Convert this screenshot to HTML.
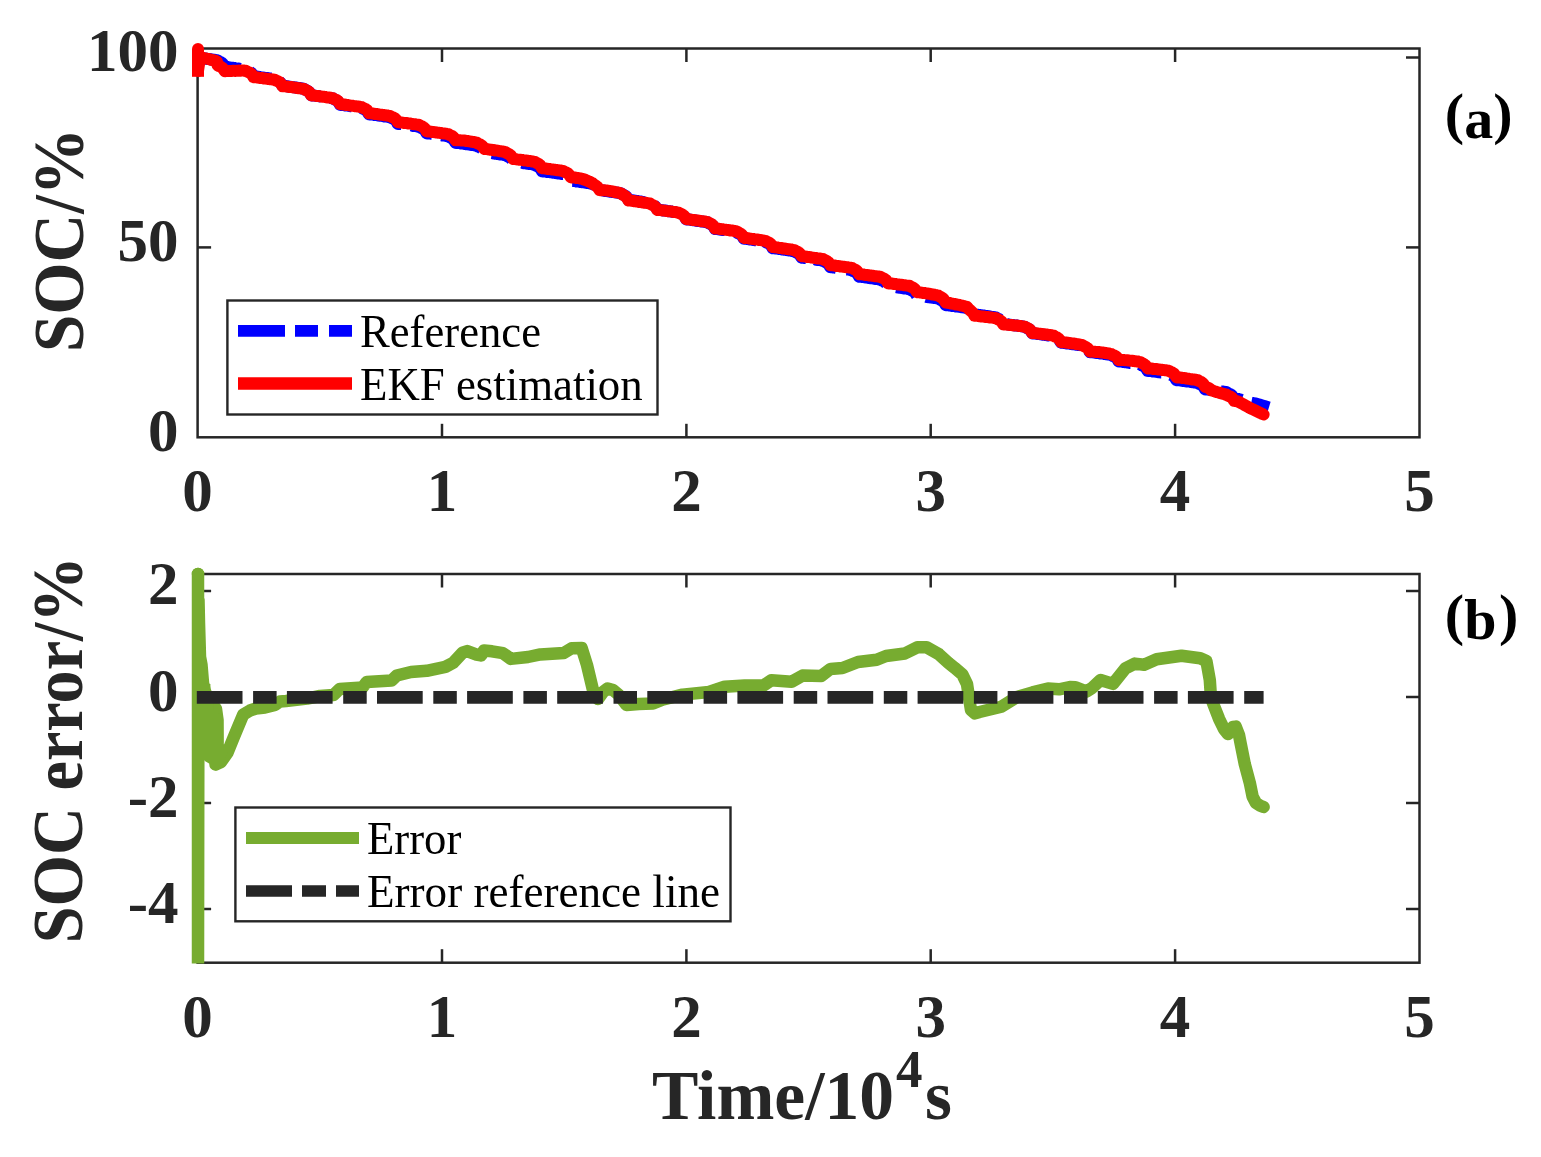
<!DOCTYPE html>
<html><head><meta charset="utf-8"><title>SOC estimation</title>
<style>html,body{margin:0;padding:0;background:#fff;}svg{display:block;}</style></head>
<body><svg width="1541" height="1157" viewBox="0 0 1541 1157">
<rect width="1541" height="1157" fill="#fff"/>
<rect x="197.6" y="48.5" width="1221.9" height="388.8" fill="none" stroke="#262626" stroke-width="2.5"/>
<line x1="442.0" y1="437.3" x2="442.0" y2="423.8" stroke="#262626" stroke-width="2.5"/>
<line x1="442.0" y1="48.5" x2="442.0" y2="62.0" stroke="#262626" stroke-width="2.5"/>
<line x1="686.4" y1="437.3" x2="686.4" y2="423.8" stroke="#262626" stroke-width="2.5"/>
<line x1="686.4" y1="48.5" x2="686.4" y2="62.0" stroke="#262626" stroke-width="2.5"/>
<line x1="930.7" y1="437.3" x2="930.7" y2="423.8" stroke="#262626" stroke-width="2.5"/>
<line x1="930.7" y1="48.5" x2="930.7" y2="62.0" stroke="#262626" stroke-width="2.5"/>
<line x1="1175.1" y1="437.3" x2="1175.1" y2="423.8" stroke="#262626" stroke-width="2.5"/>
<line x1="1175.1" y1="48.5" x2="1175.1" y2="62.0" stroke="#262626" stroke-width="2.5"/>
<line x1="197.6" y1="57.5" x2="211.1" y2="57.5" stroke="#262626" stroke-width="2.5"/>
<line x1="1419.5" y1="57.5" x2="1406.0" y2="57.5" stroke="#262626" stroke-width="2.5"/>
<line x1="197.6" y1="247.4" x2="211.1" y2="247.4" stroke="#262626" stroke-width="2.5"/>
<line x1="1419.5" y1="247.4" x2="1406.0" y2="247.4" stroke="#262626" stroke-width="2.5"/>
<rect x="197.6" y="574.0" width="1221.9" height="388.7" fill="none" stroke="#262626" stroke-width="2.5"/>
<line x1="442.0" y1="962.7" x2="442.0" y2="949.2" stroke="#262626" stroke-width="2.5"/>
<line x1="442.0" y1="574.0" x2="442.0" y2="587.5" stroke="#262626" stroke-width="2.5"/>
<line x1="686.4" y1="962.7" x2="686.4" y2="949.2" stroke="#262626" stroke-width="2.5"/>
<line x1="686.4" y1="574.0" x2="686.4" y2="587.5" stroke="#262626" stroke-width="2.5"/>
<line x1="930.7" y1="962.7" x2="930.7" y2="949.2" stroke="#262626" stroke-width="2.5"/>
<line x1="930.7" y1="574.0" x2="930.7" y2="587.5" stroke="#262626" stroke-width="2.5"/>
<line x1="1175.1" y1="962.7" x2="1175.1" y2="949.2" stroke="#262626" stroke-width="2.5"/>
<line x1="1175.1" y1="574.0" x2="1175.1" y2="587.5" stroke="#262626" stroke-width="2.5"/>
<line x1="197.6" y1="591.0" x2="211.1" y2="591.0" stroke="#262626" stroke-width="2.5"/>
<line x1="1419.5" y1="591.0" x2="1406.0" y2="591.0" stroke="#262626" stroke-width="2.5"/>
<line x1="197.6" y1="697.0" x2="211.1" y2="697.0" stroke="#262626" stroke-width="2.5"/>
<line x1="1419.5" y1="697.0" x2="1406.0" y2="697.0" stroke="#262626" stroke-width="2.5"/>
<line x1="197.6" y1="803.0" x2="211.1" y2="803.0" stroke="#262626" stroke-width="2.5"/>
<line x1="1419.5" y1="803.0" x2="1406.0" y2="803.0" stroke="#262626" stroke-width="2.5"/>
<line x1="197.6" y1="909.0" x2="211.1" y2="909.0" stroke="#262626" stroke-width="2.5"/>
<line x1="1419.5" y1="909.0" x2="1406.0" y2="909.0" stroke="#262626" stroke-width="2.5"/>
<polyline points="197.6,57.5 200.0,57.7 200.5,57.7 201.0,57.9 201.5,58.1 202.0,58.2 202.5,58.2 203.0,58.2 203.5,58.2 204.0,58.3 204.5,58.4 205.0,58.4 205.5,58.5 206.0,58.7 206.5,58.8 207.0,58.9 207.5,58.9 208.0,58.9 208.5,58.9 209.0,59.0 209.5,59.1 210.0,59.1 210.5,59.2 211.0,59.4 211.5,59.5 212.0,59.5 212.5,59.6 213.0,59.6 213.5,59.7 214.0,59.8 214.5,59.8 215.0,59.8 215.5,60.0 216.0,60.2 216.5,60.2 217.0,60.2 217.5,60.3 218.0,60.7 218.5,61.1 219.0,61.4 219.5,61.6 220.0,61.8 220.5,62.0 221.0,62.3 221.5,62.7 222.0,63.0 222.5,63.4 223.0,64.0 223.5,64.7 224.0,65.4 224.5,66.5 225.0,67.0 225.5,67.0 226.0,67.0 226.5,67.0 227.0,67.0 227.5,67.0 228.0,67.1 228.5,67.2 229.0,67.2 229.5,67.2 230.0,67.4 230.5,67.6 231.0,67.7 231.5,67.7 232.0,67.7 232.5,67.7 233.0,67.8 233.5,67.9 234.0,67.9 234.5,68.0 235.0,68.2 235.5,68.3 236.0,68.3 236.5,68.4 237.0,68.4 237.5,68.4 238.0,68.6 238.5,68.6 239.0,68.6 239.5,68.8 240.0,68.9 240.5,69.0 241.0,69.0 241.5,69.1 242.0,69.1 242.5,69.2 243.0,69.3 243.5,69.3 244.0,69.3 244.5,69.6 245.0,69.7 245.5,69.7 246.0,69.7 246.5,70.0 247.0,70.3 247.5,70.7 248.0,70.9 248.5,71.1 249.0,71.4 249.5,71.6 250.0,71.9 250.5,72.3 251.0,72.6 251.5,73.1 252.0,73.7 252.5,74.4 253.0,75.2 253.5,76.3 254.0,76.5 254.5,76.5 255.0,76.5 255.5,76.5 256.0,76.5 256.5,76.5 257.0,76.6 257.5,76.7 258.0,76.7 258.5,76.8 259.0,77.0 259.5,77.1 260.0,77.1 260.5,77.2 261.0,77.2 261.5,77.2 262.0,77.4 262.5,77.4 263.0,77.4 263.5,77.6 264.0,77.7 264.5,77.8 265.0,77.8 265.5,77.9 266.0,77.9 266.5,78.0 267.0,78.1 267.5,78.1 268.0,78.1 268.5,78.3 269.0,78.5 269.5,78.5 270.0,78.5 270.5,78.5 271.0,78.6 271.5,78.7 272.0,78.7 272.5,78.8 273.0,78.9 273.5,79.1 274.0,79.2 274.5,79.2 275.0,79.2 275.5,79.6 276.0,79.9 276.5,80.3 277.0,80.5 277.5,80.7 278.0,80.9 278.5,81.1 279.0,81.5 279.5,81.9 280.0,82.2 280.5,82.7 281.0,83.4 281.5,84.1 282.0,85.1 282.5,85.9 283.0,85.9 283.5,85.9 284.0,85.9 284.5,86.0 285.0,86.0 285.5,86.0 286.0,86.1 286.5,86.2 287.0,86.2 287.5,86.3 288.0,86.5 288.5,86.6 289.0,86.6 289.5,86.7 290.0,86.7 290.5,86.8 291.0,86.9 291.5,86.9 292.0,86.9 292.5,87.1 293.0,87.3 293.5,87.3 294.0,87.3 294.5,87.3 295.0,87.4 295.5,87.5 296.0,87.5 296.5,87.6 297.0,87.7 297.5,87.9 298.0,88.0 298.5,88.0 299.0,88.0 299.5,88.0 300.0,88.1 300.5,88.2 301.0,88.2 301.5,88.3 302.0,88.5 302.5,88.6 303.0,88.7 303.5,88.7 304.0,88.8 304.5,89.2 305.0,89.5 305.5,89.9 306.0,90.0 306.5,90.2 307.0,90.5 307.5,90.7 308.0,91.1 308.5,91.5 309.0,91.8 309.5,92.4 310.0,93.2 310.5,93.9 311.0,94.9 311.5,95.4 312.0,95.4 312.5,95.4 313.0,95.4 313.5,95.5 314.0,95.5 314.5,95.5 315.0,95.7 315.5,95.7 316.0,95.7 316.5,95.9 317.0,96.0 317.5,96.1 318.0,96.1 318.5,96.2 319.0,96.2 319.5,96.3 320.0,96.4 320.5,96.4 321.0,96.4 321.5,96.7 322.0,96.8 322.5,96.8 323.0,96.8 323.5,96.8 324.0,96.9 324.5,97.0 325.0,97.0 325.5,97.1 326.0,97.2 326.5,97.4 327.0,97.5 327.5,97.5 328.0,97.5 328.5,97.5 329.0,97.6 329.5,97.7 330.0,97.7 330.5,97.8 331.0,98.0 331.5,98.1 332.0,98.2 332.5,98.2 333.0,98.4 333.5,98.8 334.0,99.1 334.5,99.4 335.0,99.6 335.5,99.8 336.0,100.0 336.5,100.4 337.0,100.7 337.5,101.1 338.0,101.5 338.5,102.2 339.0,102.9 339.5,103.7 340.0,104.7 340.5,104.9 341.0,104.9 341.5,104.9 342.0,104.9 342.5,105.0 343.0,105.0 343.5,105.1 344.0,105.2 344.5,105.2 345.0,105.2 345.5,105.5 346.0,105.6 346.5,105.6 347.0,105.6 347.5,105.6 348.0,105.7 348.5,105.8 349.0,105.9 349.5,105.9 350.0,106.0 350.5,106.2 351.0,106.3 351.5,106.3 352.0,106.3 352.5,106.3 353.0,106.4 353.5,106.5 354.0,106.5 354.5,106.6 355.0,106.8 355.5,106.9 356.0,107.0 356.5,107.0 357.0,107.0 357.5,107.0 358.0,107.2 358.5,107.2 359.0,107.2 359.5,107.4 360.0,107.6 360.5,107.7 361.0,107.7 361.5,107.7 362.0,108.0 362.5,108.4 363.0,108.8 363.5,109.0 364.0,109.2 364.5,109.4 365.0,109.6 365.5,110.0 366.0,110.3 366.5,110.7 367.0,111.2 367.5,111.9 368.0,112.6 368.5,113.5 369.0,114.3 369.5,114.4 370.0,114.4 370.5,114.4 371.0,114.4 371.5,114.5 372.0,114.5 372.5,114.6 373.0,114.7 373.5,114.7 374.0,114.8 374.5,115.0 375.0,115.1 375.5,115.1 376.0,115.1 376.5,115.1 377.0,115.2 377.5,115.3 378.0,115.4 378.5,115.4 379.0,115.6 379.5,115.7 380.0,115.8 380.5,115.8 381.0,115.8 381.5,115.8 382.0,116.0 382.5,116.0 383.0,116.0 383.5,116.1 384.0,116.4 384.5,116.5 385.0,116.5 385.5,116.5 386.0,116.5 386.5,116.6 387.0,116.7 387.5,116.7 388.0,116.7 388.5,116.9 389.0,117.1 389.5,117.1 390.0,117.2 390.5,117.3 391.0,117.7 391.5,118.0 392.0,118.3 392.5,118.5 393.0,118.7 393.5,118.9 394.0,119.2 394.5,119.6 395.0,119.9 395.5,120.3 396.0,120.9 396.5,121.6 397.0,122.3 397.5,123.4 398.0,123.9 398.5,123.9 399.0,123.9 399.5,123.9 400.0,123.9 400.5,124.0 401.0,124.0 401.5,124.1 402.0,124.2 402.5,124.2 403.0,124.4 403.5,124.5 404.0,124.6 404.5,124.6 405.0,124.6 405.5,124.6 406.0,124.8 406.5,124.8 407.0,124.8 407.5,124.9 408.0,125.1 408.5,125.3 409.0,125.3 409.5,125.3 410.0,125.3 410.5,125.4 411.0,125.5 411.5,125.5 412.0,125.5 412.5,125.7 413.0,125.9 413.5,126.0 414.0,126.0 414.5,126.0 415.0,126.0 415.5,126.1 416.0,126.2 416.5,126.2 417.0,126.3 417.5,126.5 418.0,126.6 418.5,126.6 419.0,126.6 419.5,126.9 420.0,127.3 420.5,127.6 421.0,127.9 421.5,128.1 422.0,128.3 422.5,128.5 423.0,128.8 423.5,129.2 424.0,129.5 424.5,130.0 425.0,130.6 425.5,131.3 426.0,132.1 426.5,133.2 427.0,133.4 427.5,133.4 428.0,133.4 428.5,133.4 429.0,133.4 429.5,133.5 430.0,133.6 430.5,133.7 431.0,133.7 431.5,133.7 432.0,133.9 432.5,134.1 433.0,134.1 433.5,134.1 434.0,134.1 434.5,134.2 435.0,134.3 435.5,134.3 436.0,134.3 436.5,134.5 437.0,134.7 437.5,134.8 438.0,134.8 438.5,134.8 439.0,134.8 439.5,134.9 440.0,135.0 440.5,135.0 441.0,135.1 441.5,135.3 442.0,135.4 442.5,135.5 443.0,135.5 443.5,135.5 444.0,135.5 444.5,135.7 445.0,135.7 445.5,135.7 446.0,135.8 446.5,136.0 447.0,136.1 447.5,136.1 448.0,136.2 448.5,136.5 449.0,136.9 449.5,137.2 450.0,137.4 450.5,137.6 451.0,137.9 451.5,138.1 452.0,138.4 452.5,138.8 453.0,139.2 453.5,139.7 454.0,140.4 454.5,141.1 455.0,142.0 455.5,142.8 456.0,142.9 456.5,142.9 457.0,142.9 457.5,142.9 458.0,142.9 458.5,143.0 459.0,143.1 459.5,143.1 460.0,143.2 460.5,143.3 461.0,143.5 461.5,143.6 462.0,143.6 462.5,143.6 463.0,143.6 463.5,143.7 464.0,143.8 464.5,143.8 465.0,143.9 465.5,144.1 466.0,144.2 466.5,144.3 467.0,144.3 467.5,144.3 468.0,144.3 468.5,144.4 469.0,144.5 469.5,144.5 470.0,144.6 470.5,144.8 471.0,144.9 471.5,144.9 472.0,145.0 472.5,145.0 473.0,145.1 473.5,145.2 474.0,145.2 474.5,145.2 475.0,145.4 475.5,145.6 476.0,145.6 476.5,145.6 477.0,145.7 477.5,146.1 478.0,146.5 478.5,146.8 479.0,147.0 479.5,147.2 480.0,147.4 480.5,147.7 481.0,148.1 481.5,148.4 482.0,148.8 482.5,149.4 483.0,150.1 483.5,150.8 484.0,151.8 484.5,152.4 485.0,152.4 485.5,152.4 486.0,152.4 486.5,152.4 487.0,152.4 487.5,152.5 488.0,152.6 488.5,152.6 489.0,152.7 489.5,152.8 490.0,153.0 490.5,153.1 491.0,153.1 491.5,153.1 492.0,153.1 492.5,153.2 493.0,153.3 493.5,153.3 494.0,153.4 494.5,153.6 495.0,153.7 495.5,153.8 496.0,153.8 496.5,153.8 497.0,153.9 497.5,154.0 498.0,154.0 498.5,154.0 499.0,154.2 499.5,154.4 500.0,154.4 500.5,154.4 501.0,154.5 501.5,154.5 502.0,154.6 502.5,154.7 503.0,154.7 503.5,154.8 504.0,155.0 504.5,155.1 505.0,155.1 505.5,155.1 506.0,155.4 506.5,155.7 507.0,156.1 507.5,156.3 508.0,156.6 508.5,156.8 509.0,157.0 509.5,157.3 510.0,157.7 510.5,158.0 511.0,158.5 511.5,159.1 512.0,159.8 512.5,160.6 513.0,161.7 513.5,161.9 514.0,161.9 514.5,161.9 515.0,161.9 515.5,161.9 516.0,161.9 516.5,162.0 517.0,162.1 517.5,162.1 518.0,162.2 518.5,162.4 519.0,162.5 519.5,162.6 520.0,162.6 520.5,162.6 521.0,162.6 521.5,162.8 522.0,162.8 522.5,162.8 523.0,163.0 523.5,163.2 524.0,163.3 524.5,163.3 525.0,163.3 525.5,163.3 526.0,163.4 526.5,163.5 527.0,163.5 527.5,163.5 528.0,163.8 528.5,163.9 529.0,163.9 529.5,164.0 530.0,164.0 530.5,164.0 531.0,164.1 531.5,164.2 532.0,164.2 532.5,164.3 533.0,164.5 533.5,164.6 534.0,164.6 534.5,164.6 535.0,165.0 535.5,165.3 536.0,165.7 536.5,165.9 537.0,166.1 537.5,166.3 538.0,166.5 538.5,166.9 539.0,167.3 539.5,167.6 540.0,168.1 540.5,168.8 541.0,169.5 541.5,170.4 542.0,171.3 542.5,171.4 543.0,171.4 543.5,171.4 544.0,171.4 544.5,171.4 545.0,171.4 545.5,171.6 546.0,171.6 546.5,171.6 547.0,171.7 547.5,172.0 548.0,172.1 548.5,172.1 549.0,172.1 549.5,172.1 550.0,172.2 550.5,172.3 551.0,172.3 551.5,172.3 552.0,172.5 552.5,172.7 553.0,172.7 553.5,172.8 554.0,172.8 554.5,172.8 555.0,172.9 555.5,173.0 556.0,173.0 556.5,173.1 557.0,173.3 557.5,173.4 558.0,173.4 558.5,173.5 559.0,173.5 559.5,173.5 560.0,173.7 560.5,173.7 561.0,173.7 561.5,173.9 562.0,174.0 562.5,174.1 563.0,174.1 563.5,174.2 564.0,174.6 564.5,175.0 565.0,175.3 565.5,175.5 566.0,175.7 566.5,175.9 567.0,176.1 567.5,176.5 568.0,176.9 568.5,177.3 569.0,177.8 569.5,178.6 570.0,179.3 570.5,180.3 571.0,180.9 571.5,180.9 572.0,180.9 572.5,180.9 573.0,180.9 573.5,180.9 574.0,181.0 574.5,181.1 575.0,181.1 575.5,181.1 576.0,181.3 576.5,181.5 577.0,181.6 577.5,181.6 578.0,181.6 578.5,181.6 579.0,181.7 579.5,181.8 580.0,181.8 580.5,181.9 581.0,182.1 581.5,182.2 582.0,182.2 582.5,182.3 583.0,182.3 583.5,182.3 584.0,182.5 584.5,182.5 585.0,182.5 585.5,182.7 586.0,182.8 586.5,182.9 587.0,182.9 587.5,183.0 588.0,183.0 588.5,183.1 589.0,183.2 589.5,183.2 590.0,183.2 590.5,183.5 591.0,183.6 591.5,183.6 592.0,183.6 592.5,183.8 593.0,184.2 593.5,184.6 594.0,184.8 594.5,185.0 595.0,185.2 595.5,185.5 596.0,185.8 596.5,186.1 597.0,186.5 597.5,186.9 598.0,187.6 598.5,188.3 599.0,189.1 599.5,190.1 600.0,190.4 600.5,190.4 601.0,190.4 601.5,190.4 602.0,190.4 602.5,190.4 603.0,190.5 603.5,190.6 604.0,190.6 604.5,190.7 605.0,190.9 605.5,191.1 606.0,191.1 606.5,191.1 607.0,191.1 607.5,191.2 608.0,191.3 608.5,191.4 609.0,191.4 609.5,191.5 610.0,191.7 610.5,191.8 611.0,191.8 611.5,191.9 612.0,191.9 612.5,192.0 613.0,192.1 613.5,192.1 614.0,192.1 614.5,192.3 615.0,192.5 615.5,192.5 616.0,192.5 616.5,192.6 617.0,192.6 617.5,192.7 618.0,192.8 618.5,192.8 619.0,192.9 619.5,193.1 620.0,193.2 620.5,193.2 621.0,193.3 621.5,193.6 622.0,194.0 622.5,194.3 623.0,194.5 623.5,194.8 624.0,195.0 624.5,195.2 625.0,195.6 625.5,195.9 626.0,196.3 626.5,196.8 627.0,197.5 627.5,198.2 628.0,199.1 628.5,200.0 629.0,200.1 629.5,200.1 630.0,200.1 630.5,200.1 631.0,200.1 631.5,200.1 632.0,200.3 632.5,200.3 633.0,200.3 633.5,200.4 634.0,200.7 634.5,200.8 635.0,200.8 635.5,200.8 636.0,200.8 636.5,200.9 637.0,201.0 637.5,201.0 638.0,201.1 638.5,201.3 639.0,201.4 639.5,201.5 640.0,201.5 640.5,201.5 641.0,201.6 641.5,201.7 642.0,201.8 642.5,201.8 643.0,201.9 643.5,202.1 644.0,202.2 644.5,202.2 645.0,202.2 645.5,202.3 646.0,202.3 646.5,202.5 647.0,202.5 647.5,202.5 648.0,202.7 648.5,202.8 649.0,202.9 649.5,202.9 650.0,203.0 650.5,203.4 651.0,203.8 651.5,204.1 652.0,204.3 652.5,204.5 653.0,204.7 653.5,205.0 654.0,205.4 654.5,205.7 655.0,206.1 655.5,206.7 656.0,207.4 656.5,208.1 657.0,209.1 657.5,209.7 658.0,209.7 658.5,209.7 659.0,209.8 659.5,209.8 660.0,209.8 660.5,209.9 661.0,210.0 661.5,210.0 662.0,210.0 662.5,210.2 663.0,210.4 663.5,210.5 664.0,210.5 664.5,210.5 665.0,210.5 665.5,210.6 666.0,210.7 666.5,210.7 667.0,210.8 667.5,211.0 668.0,211.2 668.5,211.2 669.0,211.2 669.5,211.2 670.0,211.3 670.5,211.4 671.0,211.4 671.5,211.5 672.0,211.6 672.5,211.8 673.0,211.9 673.5,211.9 674.0,211.9 674.5,211.9 675.0,212.1 675.5,212.2 676.0,212.2 676.5,212.2 677.0,212.4 677.5,212.6 678.0,212.6 678.5,212.6 679.0,212.8 679.5,213.2 680.0,213.6 680.5,213.8 681.0,214.1 681.5,214.3 682.0,214.5 682.5,214.8 683.0,215.2 683.5,215.5 684.0,216.0 684.5,216.6 685.0,217.3 685.5,218.1 686.0,219.1 686.5,219.4 687.0,219.4 687.5,219.4 688.0,219.4 688.5,219.5 689.0,219.5 689.5,219.6 690.0,219.7 690.5,219.7 691.0,219.8 691.5,220.0 692.0,220.1 692.5,220.2 693.0,220.2 693.5,220.2 694.0,220.2 694.5,220.4 695.0,220.4 695.5,220.4 696.0,220.6 696.5,220.8 697.0,220.9 697.5,220.9 698.0,220.9 698.5,220.9 699.0,221.0 699.5,221.1 700.0,221.1 700.5,221.2 701.0,221.4 701.5,221.5 702.0,221.6 702.5,221.6 703.0,221.6 703.5,221.7 704.0,221.8 704.5,221.8 705.0,221.9 705.5,222.0 706.0,222.2 706.5,222.3 707.0,222.3 707.5,222.3 708.0,222.7 708.5,223.0 709.0,223.4 709.5,223.6 710.0,223.8 710.5,224.0 711.0,224.2 711.5,224.6 712.0,225.0 712.5,225.3 713.0,225.8 713.5,226.5 714.0,227.2 714.5,228.1 715.0,229.0 715.5,229.1 716.0,229.1 716.5,229.1 717.0,229.1 717.5,229.2 718.0,229.2 718.5,229.3 719.0,229.4 719.5,229.4 720.0,229.5 720.5,229.7 721.0,229.8 721.5,229.8 722.0,229.9 722.5,229.9 723.0,230.0 723.5,230.1 724.0,230.1 724.5,230.1 725.0,230.3 725.5,230.5 726.0,230.6 726.5,230.6 727.0,230.6 727.5,230.6 728.0,230.7 728.5,230.8 729.0,230.8 729.5,230.9 730.0,231.1 730.5,231.3 731.0,231.3 731.5,231.3 732.0,231.3 732.5,231.4 733.0,231.5 733.5,231.5 734.0,231.6 734.5,231.7 735.0,231.9 735.5,232.0 736.0,232.0 736.5,232.1 737.0,232.5 737.5,232.8 738.0,233.2 738.5,233.3 739.0,233.6 739.5,233.8 740.0,234.0 740.5,234.4 741.0,234.8 741.5,235.2 742.0,235.7 742.5,236.4 743.0,237.2 743.5,238.2 744.0,238.8 744.5,238.8 745.0,238.8 745.5,238.8 746.0,238.8 746.5,238.9 747.0,238.9 747.5,239.0 748.0,239.1 748.5,239.1 749.0,239.3 749.5,239.4 750.0,239.5 750.5,239.5 751.0,239.6 751.5,239.6 752.0,239.7 752.5,239.8 753.0,239.8 753.5,239.8 754.0,240.1 754.5,240.2 755.0,240.2 755.5,240.2 756.0,240.2 756.5,240.3 757.0,240.4 757.5,240.5 758.0,240.5 758.5,240.6 759.0,240.8 759.5,240.9 760.0,240.9 760.5,240.9 761.0,240.9 761.5,241.0 762.0,241.1 762.5,241.1 763.0,241.2 763.5,241.4 764.0,241.5 764.5,241.6 765.0,241.6 765.5,241.8 766.0,242.2 766.5,242.5 767.0,242.8 767.5,243.0 768.0,243.2 768.5,243.4 769.0,243.7 769.5,244.1 770.0,244.4 770.5,244.9 771.0,245.5 771.5,246.2 772.0,247.0 772.5,248.0 773.0,248.3 773.5,248.3 774.0,248.3 774.5,248.3 775.0,248.4 775.5,248.4 776.0,248.5 776.5,248.6 777.0,248.6 777.5,248.6 778.0,248.8 778.5,249.0 779.0,249.0 779.5,249.0 780.0,249.1 780.5,249.1 781.0,249.2 781.5,249.3 782.0,249.3 782.5,249.4 783.0,249.6 783.5,249.7 784.0,249.7 784.5,249.7 785.0,249.7 785.5,249.8 786.0,249.9 786.5,250.0 787.0,250.0 787.5,250.2 788.0,250.3 788.5,250.4 789.0,250.4 789.5,250.4 790.0,250.4 790.5,250.6 791.0,250.6 791.5,250.6 792.0,250.7 792.5,251.0 793.0,251.1 793.5,251.1 794.0,251.1 794.5,251.4 795.0,251.8 795.5,252.1 796.0,252.3 796.5,252.6 797.0,252.8 797.5,253.0 798.0,253.3 798.5,253.7 799.0,254.1 799.5,254.5 800.0,255.2 800.5,255.9 801.0,256.8 801.5,257.7 802.0,257.8 802.5,257.8 803.0,257.8 803.5,257.8 804.0,257.9 804.5,257.9 805.0,258.0 805.5,258.1 806.0,258.1 806.5,258.2 807.0,258.4 807.5,258.5 808.0,258.5 808.5,258.6 809.0,258.6 809.5,258.6 810.0,258.8 810.5,258.8 811.0,258.8 811.5,259.0 812.0,259.1 812.5,259.2 813.0,259.2 813.5,259.2 814.0,259.2 814.5,259.4 815.0,259.4 815.5,259.4 816.0,259.5 816.5,259.8 817.0,259.9 817.5,259.9 818.0,259.9 818.5,259.9 819.0,260.0 819.5,260.1 820.0,260.1 820.5,260.1 821.0,260.3 821.5,260.5 822.0,260.6 822.5,260.6 823.0,260.6 823.5,261.0 824.0,261.4 824.5,261.7 825.0,261.9 825.5,262.1 826.0,262.3 826.5,262.6 827.0,263.0 827.5,263.3 828.0,263.7 828.5,264.2 829.0,265.0 829.5,265.7 830.0,266.7 830.5,267.3 831.0,267.3 831.5,267.3 832.0,267.3 832.5,267.4 833.0,267.4 833.5,267.4 834.0,267.6 834.5,267.6 835.0,267.6 835.5,267.8 836.0,267.9 836.5,268.0 837.0,268.0 837.5,268.1 838.0,268.1 838.5,268.2 839.0,268.3 839.5,268.3 840.0,268.3 840.5,268.5 841.0,268.7 841.5,268.7 842.0,268.7 842.5,268.7 843.0,268.8 843.5,268.9 844.0,268.9 844.5,268.9 845.0,269.1 845.5,269.3 846.0,269.4 846.5,269.4 847.0,269.4 847.5,269.4 848.0,269.5 848.5,269.6 849.0,269.6 849.5,269.7 850.0,269.9 850.5,270.0 851.0,270.1 851.5,270.1 852.0,270.3 852.5,270.6 853.0,271.0 853.5,271.3 854.0,271.5 854.5,271.7 855.0,271.9 855.5,272.2 856.0,272.6 856.5,272.9 857.0,273.3 857.5,274.0 858.0,274.7 858.5,275.5 859.0,276.5 859.5,276.8 860.0,276.8 860.5,276.8 861.0,276.8 861.5,276.9 862.0,276.9 862.5,277.0 863.0,277.1 863.5,277.1 864.0,277.1 864.5,277.3 865.0,277.5 865.5,277.5 866.0,277.5 866.5,277.5 867.0,277.6 867.5,277.7 868.0,277.8 868.5,277.8 869.0,277.9 869.5,278.1 870.0,278.2 870.5,278.2 871.0,278.2 871.5,278.2 872.0,278.3 872.5,278.4 873.0,278.4 873.5,278.5 874.0,278.7 874.5,278.8 875.0,278.9 875.5,278.9 876.0,278.9 876.5,278.9 877.0,279.1 877.5,279.1 878.0,279.1 878.5,279.2 879.0,279.4 879.5,279.6 880.0,279.6 880.5,279.6 881.0,279.9 881.5,280.3 882.0,280.6 882.5,280.8 883.0,281.0 883.5,281.2 884.0,281.5 884.5,281.8 885.0,282.2 885.5,282.5 886.0,283.0 886.5,283.7 887.0,284.4 887.5,285.3 888.0,286.2 888.5,286.3 889.0,286.3 889.5,286.3 890.0,286.3 890.5,286.4 891.0,286.4 891.5,286.5 892.0,286.6 892.5,286.6 893.0,286.7 893.5,286.9 894.0,287.0 894.5,287.0 895.0,287.0 895.5,287.0 896.0,287.1 896.5,287.2 897.0,287.3 897.5,287.3 898.0,287.5 898.5,287.6 899.0,287.7 899.5,287.7 900.0,287.7 900.5,287.7 901.0,287.9 901.5,287.9 902.0,287.9 902.5,288.0 903.0,288.2 903.5,288.4 904.0,288.4 904.5,288.4 905.0,288.4 905.5,288.5 906.0,288.6 906.5,288.6 907.0,288.6 907.5,288.8 908.0,289.0 908.5,289.1 909.0,289.1 909.5,289.1 910.0,289.5 910.5,289.9 911.0,290.2 911.5,290.4 912.0,290.6 912.5,290.8 913.0,291.1 913.5,291.4 914.0,291.8 914.5,292.2 915.0,292.7 915.5,293.4 916.0,294.1 916.5,295.1 917.0,295.8 917.5,295.8 918.0,295.8 918.5,295.8 919.0,295.8 919.5,295.9 920.0,295.9 920.5,296.0 921.0,296.1 921.5,296.1 922.0,296.2 922.5,296.4 923.0,296.5 923.5,296.5 924.0,296.5 924.5,296.5 925.0,296.7 925.5,296.7 926.0,296.8 926.5,296.8 927.0,297.0 927.5,297.1 928.0,297.2 928.5,297.2 929.0,297.2 929.5,297.3 930.0,297.4 930.5,297.4 931.0,297.4 931.5,297.6 932.0,297.8 932.5,297.8 933.0,297.8 933.5,297.9 934.0,297.9 934.5,298.0 935.0,298.1 935.5,298.1 936.0,298.1 936.5,298.3 937.0,298.5 937.5,298.5 938.0,298.5 938.5,298.7 939.0,299.1 939.5,299.4 940.0,299.7 940.5,299.9 941.0,300.1 941.5,300.3 942.0,300.6 942.5,301.0 943.0,301.3 943.5,301.8 944.0,302.4 944.5,303.1 945.0,303.9 945.5,304.9 946.0,305.2 946.5,305.2 947.0,305.2 947.5,305.2 948.0,305.3 948.5,305.3 949.0,305.4 949.5,305.5 950.0,305.5 950.5,305.5 951.0,305.7 951.5,305.9 952.0,305.9 952.5,305.9 953.0,305.9 953.5,306.0 954.0,306.1 954.5,306.1 955.0,306.2 955.5,306.3 956.0,306.5 956.5,306.6 957.0,306.6 957.5,306.6 958.0,306.6 958.5,306.7 959.0,306.8 959.5,306.8 960.0,306.8 960.5,307.0 961.0,307.2 961.5,307.2 962.0,307.2 962.5,307.3 963.0,307.3 963.5,307.4 964.0,307.5 964.5,307.5 965.0,307.6 965.5,307.8 966.0,307.9 966.5,307.9 967.0,307.9 967.5,308.2 968.0,308.6 968.5,309.0 969.0,309.2 969.5,309.4 970.0,309.6 970.5,309.8 971.0,310.2 971.5,310.5 972.0,310.9 972.5,311.3 973.0,312.0 973.5,312.7 974.0,313.6 974.5,314.5 975.0,314.6 975.5,314.6 976.0,314.6 976.5,314.6 977.0,314.7 977.5,314.7 978.0,314.8 978.5,314.9 979.0,314.9 979.5,315.0 980.0,315.2 980.5,315.3 981.0,315.3 981.5,315.3 982.0,315.3 982.5,315.4 983.0,315.5 983.5,315.5 984.0,315.6 984.5,315.7 985.0,315.9 985.5,316.0 986.0,316.0 986.5,316.0 987.0,316.0 987.5,316.1 988.0,316.2 988.5,316.2 989.0,316.3 989.5,316.5 990.0,316.6 990.5,316.6 991.0,316.7 991.5,316.7 992.0,316.7 992.5,316.9 993.0,316.9 993.5,316.9 994.0,317.1 994.5,317.2 995.0,317.3 995.5,317.3 996.0,317.4 996.5,317.8 997.0,318.1 997.5,318.5 998.0,318.6 998.5,318.8 999.0,319.1 999.5,319.3 1000.0,319.7 1000.5,320.0 1001.0,320.4 1001.5,320.9 1002.0,321.7 1002.5,322.4 1003.0,323.3 1003.5,324.0 1004.0,324.0 1004.5,324.0 1005.0,324.0 1005.5,324.1 1006.0,324.1 1006.5,324.1 1007.0,324.2 1007.5,324.3 1008.0,324.3 1008.5,324.4 1009.0,324.6 1009.5,324.7 1010.0,324.7 1010.5,324.7 1011.0,324.7 1011.5,324.9 1012.0,324.9 1012.5,324.9 1013.0,325.0 1013.5,325.2 1014.0,325.3 1014.5,325.4 1015.0,325.4 1015.5,325.4 1016.0,325.4 1016.5,325.6 1017.0,325.6 1017.5,325.6 1018.0,325.8 1018.5,325.9 1019.0,326.0 1019.5,326.0 1020.0,326.1 1020.5,326.1 1021.0,326.2 1021.5,326.3 1022.0,326.3 1022.5,326.3 1023.0,326.5 1023.5,326.7 1024.0,326.7 1024.5,326.7 1025.0,326.9 1025.5,327.3 1026.0,327.6 1026.5,327.9 1027.0,328.1 1027.5,328.3 1028.0,328.5 1028.5,328.8 1029.0,329.2 1029.5,329.5 1030.0,329.9 1030.5,330.6 1031.0,331.3 1031.5,332.0 1032.0,333.1 1032.5,333.4 1033.0,333.4 1033.5,333.4 1034.0,333.4 1034.5,333.5 1035.0,333.5 1035.5,333.6 1036.0,333.7 1036.5,333.7 1037.0,333.7 1037.5,333.9 1038.0,334.1 1038.5,334.1 1039.0,334.1 1039.5,334.1 1040.0,334.2 1040.5,334.3 1041.0,334.3 1041.5,334.3 1042.0,334.5 1042.5,334.7 1043.0,334.8 1043.5,334.8 1044.0,334.8 1044.5,334.8 1045.0,334.9 1045.5,335.0 1046.0,335.0 1046.5,335.0 1047.0,335.2 1047.5,335.4 1048.0,335.4 1048.5,335.4 1049.0,335.5 1049.5,335.5 1050.0,335.6 1050.5,335.7 1051.0,335.7 1051.5,335.8 1052.0,336.0 1052.5,336.1 1053.0,336.1 1053.5,336.1 1054.0,336.4 1054.5,336.8 1055.0,337.1 1055.5,337.4 1056.0,337.6 1056.5,337.8 1057.0,338.0 1057.5,338.3 1058.0,338.7 1058.5,339.0 1059.0,339.5 1059.5,340.2 1060.0,340.9 1060.5,341.8 1061.0,342.7 1061.5,342.8 1062.0,342.8 1062.5,342.8 1063.0,342.8 1063.5,342.9 1064.0,342.9 1064.5,343.0 1065.0,343.1 1065.5,343.1 1066.0,343.2 1066.5,343.4 1067.0,343.5 1067.5,343.5 1068.0,343.5 1068.5,343.5 1069.0,343.6 1069.5,343.7 1070.0,343.7 1070.5,343.8 1071.0,343.9 1071.5,344.1 1072.0,344.2 1072.5,344.2 1073.0,344.2 1073.5,344.2 1074.0,344.3 1074.5,344.4 1075.0,344.4 1075.5,344.5 1076.0,344.7 1076.5,344.8 1077.0,344.8 1077.5,344.9 1078.0,344.9 1078.5,344.9 1079.0,345.0 1079.5,345.1 1080.0,345.1 1080.5,345.3 1081.0,345.4 1081.5,345.5 1082.0,345.5 1082.5,345.6 1083.0,345.9 1083.5,346.3 1084.0,346.6 1084.5,346.8 1085.0,347.0 1085.5,347.2 1086.0,347.5 1086.5,347.9 1087.0,348.2 1087.5,348.6 1088.0,349.1 1088.5,349.8 1089.0,350.5 1089.5,351.5 1090.0,352.2 1090.5,352.2 1091.0,352.2 1091.5,352.2 1092.0,352.3 1092.5,352.3 1093.0,352.3 1093.5,352.4 1094.0,352.5 1094.5,352.5 1095.0,352.6 1095.5,352.8 1096.0,352.9 1096.5,352.9 1097.0,352.9 1097.5,352.9 1098.0,353.0 1098.5,353.1 1099.0,353.1 1099.5,353.2 1100.0,353.4 1100.5,353.5 1101.0,353.6 1101.5,353.6 1102.0,353.6 1102.5,353.6 1103.0,353.8 1103.5,353.8 1104.0,353.8 1104.5,353.9 1105.0,354.1 1105.5,354.2 1106.0,354.2 1106.5,354.3 1107.0,354.3 1107.5,354.4 1108.0,354.5 1108.5,354.5 1109.0,354.5 1109.5,354.7 1110.0,354.8 1110.5,354.9 1111.0,354.9 1111.5,355.0 1112.0,355.4 1112.5,355.8 1113.0,356.1 1113.5,356.3 1114.0,356.5 1114.5,356.7 1115.0,357.0 1115.5,357.3 1116.0,357.7 1116.5,358.1 1117.0,358.7 1117.5,359.4 1118.0,360.2 1118.5,361.2 1119.0,361.6 1119.5,361.6 1120.0,361.6 1120.5,361.6 1121.0,361.6 1121.5,361.6 1122.0,361.7 1122.5,361.8 1123.0,361.8 1123.5,361.9 1124.0,362.1 1124.5,362.2 1125.0,362.2 1125.5,362.3 1126.0,362.3 1126.5,362.3 1127.0,362.4 1127.5,362.5 1128.0,362.5 1128.5,362.6 1129.0,362.8 1129.5,362.9 1130.0,362.9 1130.5,362.9 1131.0,362.9 1131.5,363.0 1132.0,363.1 1132.5,363.1 1133.0,363.2 1133.5,363.4 1134.0,363.5 1134.5,363.6 1135.0,363.6 1135.5,363.6 1136.0,363.6 1136.5,363.7 1137.0,363.8 1137.5,363.8 1138.0,363.9 1138.5,364.1 1139.0,364.2 1139.5,364.2 1140.0,364.2 1140.5,364.5 1141.0,364.9 1141.5,365.2 1142.0,365.5 1142.5,365.7 1143.0,365.9 1143.5,366.1 1144.0,366.4 1144.5,366.8 1145.0,367.1 1145.5,367.6 1146.0,368.3 1146.5,369.0 1147.0,369.8 1147.5,370.8 1148.0,370.9 1148.5,370.9 1149.0,370.9 1149.5,370.9 1150.0,371.0 1150.5,371.0 1151.0,371.1 1151.5,371.2 1152.0,371.2 1152.5,371.2 1153.0,371.5 1153.5,371.6 1154.0,371.6 1154.5,371.6 1155.0,371.6 1155.5,371.7 1156.0,371.8 1156.5,371.8 1157.0,371.8 1157.5,372.0 1158.0,372.2 1158.5,372.2 1159.0,372.2 1159.5,372.3 1160.0,372.3 1160.5,372.4 1161.0,372.5 1161.5,372.5 1162.0,372.5 1162.5,372.8 1163.0,372.9 1163.5,372.9 1164.0,372.9 1164.5,372.9 1165.0,373.0 1165.5,373.1 1166.0,373.1 1166.5,373.1 1167.0,373.3 1167.5,373.5 1168.0,373.6 1168.5,373.6 1169.0,373.6 1169.5,374.0 1170.0,374.3 1170.5,374.7 1171.0,374.9 1171.5,375.1 1172.0,375.3 1172.5,375.5 1173.0,375.9 1173.5,376.2 1174.0,376.6 1174.5,377.2 1175.0,377.9 1175.5,378.6 1176.0,379.5 1176.5,380.2 1177.0,380.3 1177.5,380.3 1178.0,380.3 1178.5,380.3 1179.0,380.3 1179.5,380.3 1180.0,380.5 1180.5,380.5 1181.0,380.5 1181.5,380.7 1182.0,380.8 1182.5,380.9 1183.0,380.9 1183.5,381.0 1184.0,381.0 1184.5,381.1 1185.0,381.2 1185.5,381.2 1186.0,381.2 1186.5,381.4 1187.0,381.5 1187.5,381.6 1188.0,381.6 1188.5,381.6 1189.0,381.6 1189.5,381.8 1190.0,381.8 1190.5,381.8 1191.0,382.0 1191.5,382.1 1192.0,382.2 1192.5,382.2 1193.0,382.3 1193.5,382.3 1194.0,382.4 1194.5,382.5 1195.0,382.5 1195.5,382.5 1196.0,382.7 1196.5,382.9 1197.0,382.9 1197.5,382.9 1198.0,383.0 1198.5,383.4 1199.0,383.8 1199.5,384.1 1200.0,384.3 1200.5,384.5 1201.0,384.7 1201.5,385.0 1202.0,385.3 1202.5,385.7 1203.0,386.1 1203.5,386.7 1204.0,387.4 1204.5,388.2 1205.0,389.2 1205.5,389.6 1206.0,389.6 1206.5,389.6 1207.0,389.6 1207.5,389.6 1208.0,389.6 1208.5,389.7 1209.0,389.8 1209.5,389.8 1210.0,389.8 1210.5,390.0 1211.0,390.2 1211.5,390.2 1212.0,390.2 1212.5,390.2 1213.0,390.3 1213.5,390.4 1214.0,390.4 1214.5,390.4 1215.0,390.5 1215.5,390.8 1216.0,390.9 1216.5,390.9 1217.0,390.9 1217.5,390.9 1218.0,391.0 1218.5,391.1 1219.0,391.1 1219.5,391.1 1220.0,391.3 1220.5,391.4 1221.0,391.5 1221.5,391.5 1222.0,391.5 1222.5,391.5 1223.0,391.6 1223.5,391.7 1224.0,391.7 1224.5,391.8 1225.0,392.0 1225.5,392.1 1226.0,392.1 1226.5,392.1 1227.0,392.4 1227.5,392.8 1228.0,393.1 1228.5,393.4 1229.0,393.6 1229.5,393.8 1230.0,394.0 1230.5,394.3 1231.0,394.7 1231.5,395.0 1232.0,395.5 1232.5,396.2 1233.0,396.9 1233.5,397.7 1234.0,398.7 1234.5,398.8 1235.0,398.8 1235.5,398.8 1236.0,398.8 1236.5,398.8 1237.0,398.8 1237.5,398.9 1238.0,399.0 1238.5,399.0 1239.0,399.1 1239.5,399.3 1240.0,399.4 1240.5,399.6 1241.0,399.7 1241.5,399.9 1242.0,400.0 1242.5,400.2 1243.0,400.3 1243.5,400.5 1244.0,400.7 1244.5,400.8 1245.0,401.0 1245.5,401.1 1246.0,401.3 1246.5,401.4 1247.0,401.6 1247.5,401.7 1248.0,401.9 1248.5,402.0 1249.0,402.2 1249.5,402.3 1250.0,402.5 1250.5,402.6 1251.0,402.7 1251.5,402.8 1252.0,402.9 1252.5,403.0 1253.0,403.1 1253.5,403.1 1254.0,403.2 1254.5,403.3 1255.0,403.4 1255.5,403.5 1256.0,403.6 1256.5,403.7 1257.0,403.8 1257.5,404.0 1258.0,404.1 1258.5,404.3 1259.0,404.4 1259.5,404.6 1260.0,404.7 1260.5,404.9 1261.0,405.0 1261.5,405.2 1262.0,405.3 1262.5,405.5 1263.0,405.6 1263.6,405.8 1268.9,407.4" fill="none" stroke="#0000FF" stroke-width="12" stroke-dasharray="46 10.5 23.5 10" stroke-linejoin="round"/>
<rect x="192" y="49" width="12" height="27.8" fill="#FF0000"/><circle cx="198" cy="49" r="6" fill="#FF0000"/>
<polyline points="198.0,70.8 199.2,63.0 200.0,57.5 200.5,57.5 201.0,57.7 201.5,57.9 202.0,58.0 202.5,58.0 203.0,58.0 203.5,58.0 204.0,58.1 204.5,58.2 205.0,58.2 205.5,58.2 206.0,58.5 206.5,58.6 207.0,58.8 207.5,58.8 208.0,58.9 208.5,59.0 209.0,59.2 209.5,59.3 210.0,59.3 210.5,59.5 211.0,59.8 211.5,59.9 212.0,60.0 212.5,60.1 213.0,60.1 213.5,60.3 214.0,60.4 214.5,60.5 215.0,60.6 215.5,60.8 216.0,61.0 216.5,61.3 217.0,61.6 217.5,65.1 218.0,65.5 218.5,65.8 219.0,66.1 219.5,66.3 220.0,66.5 220.5,66.7 221.0,66.9 221.5,67.3 222.0,67.6 222.5,67.9 223.0,68.5 223.5,69.1 224.0,69.8 224.5,70.8 225.0,71.2 225.5,71.2 226.0,71.1 226.5,71.1 227.0,71.1 227.5,71.0 228.0,71.0 228.5,71.0 229.0,71.0 229.5,70.9 230.0,71.0 230.5,71.0 231.0,71.0 231.5,70.9 232.0,70.9 232.5,70.8 233.0,70.8 233.5,70.8 234.0,70.7 234.5,70.7 235.0,70.9 235.5,70.9 236.0,70.8 236.5,70.8 237.0,70.7 237.5,70.7 238.0,70.7 238.5,70.7 239.0,70.6 239.5,70.7 240.0,70.8 240.5,70.7 241.0,70.7 241.5,70.6 242.0,70.5 242.5,70.6 243.0,70.6 243.5,70.5 244.0,70.6 244.5,70.8 245.0,70.9 245.5,70.9 246.0,70.8 246.5,71.1 247.0,71.4 247.5,71.8 248.0,72.0 248.5,72.2 249.0,72.4 249.5,72.6 250.0,72.9 250.5,73.2 251.0,73.6 251.5,74.0 252.0,74.6 252.5,75.3 253.0,76.1 253.5,77.2 254.0,77.3 254.5,77.3 255.0,77.3 255.5,77.3 256.0,77.3 256.5,77.3 257.0,77.4 257.5,77.5 258.0,77.5 258.5,77.6 259.0,77.8 259.5,77.9 260.0,77.9 260.5,78.0 261.0,78.0 261.5,78.0 262.0,78.1 262.5,78.2 263.0,78.2 263.5,78.3 264.0,78.5 264.5,78.6 265.0,78.6 265.5,78.6 266.0,78.6 266.5,78.7 267.0,78.8 267.5,78.8 268.0,78.8 268.5,79.0 269.0,79.1 269.5,79.2 270.0,79.2 270.5,79.2 271.0,79.2 271.5,79.3 272.0,79.4 272.5,79.4 273.0,79.5 273.5,79.7 274.0,79.8 274.5,79.8 275.0,79.8 275.5,80.1 276.0,80.5 276.5,80.8 277.0,81.0 277.5,81.1 278.0,81.3 278.5,81.5 279.0,81.9 279.5,82.2 280.0,82.5 280.5,83.1 281.0,83.8 281.5,84.5 282.0,85.4 282.5,86.2 283.0,86.2 283.5,86.2 284.0,86.2 284.5,86.3 285.0,86.3 285.5,86.3 286.0,86.4 286.5,86.5 287.0,86.5 287.5,86.6 288.0,86.8 288.5,86.9 289.0,86.9 289.5,86.9 290.0,86.9 290.5,87.0 291.0,87.1 291.5,87.1 292.0,87.1 292.5,87.3 293.0,87.5 293.5,87.5 294.0,87.5 294.5,87.6 295.0,87.6 295.5,87.7 296.0,87.8 296.5,87.8 297.0,87.9 297.5,88.1 298.0,88.2 298.5,88.2 299.0,88.2 299.5,88.2 300.0,88.3 300.5,88.4 301.0,88.4 301.5,88.4 302.0,88.6 302.5,88.8 303.0,88.8 303.5,88.8 304.0,88.9 304.5,89.3 305.0,89.7 305.5,90.0 306.0,90.2 306.5,90.4 307.0,90.6 307.5,90.8 308.0,91.2 308.5,91.6 309.0,91.9 309.5,92.5 310.0,93.2 310.5,93.9 311.0,95.0 311.5,95.5 312.0,95.5 312.5,95.5 313.0,95.5 313.5,95.5 314.0,95.5 314.5,95.6 315.0,95.7 315.5,95.7 316.0,95.7 316.5,95.9 317.0,96.0 317.5,96.1 318.0,96.1 318.5,96.1 319.0,96.1 319.5,96.2 320.0,96.3 320.5,96.3 321.0,96.4 321.5,96.6 322.0,96.7 322.5,96.7 323.0,96.7 323.5,96.7 324.0,96.8 324.5,96.9 325.0,96.9 325.5,97.0 326.0,97.1 326.5,97.3 327.0,97.4 327.5,97.4 328.0,97.4 328.5,97.4 329.0,97.5 329.5,97.6 330.0,97.6 330.5,97.7 331.0,97.9 331.5,98.0 332.0,98.0 332.5,98.0 333.0,98.3 333.5,98.6 334.0,99.0 334.5,99.2 335.0,99.4 335.5,99.5 336.0,99.7 336.5,100.0 337.0,100.3 337.5,100.6 338.0,101.1 338.5,101.7 339.0,102.4 339.5,103.1 340.0,104.1 340.5,104.3 341.0,104.3 341.5,104.3 342.0,104.3 342.5,104.4 343.0,104.4 343.5,104.5 344.0,104.6 344.5,104.6 345.0,104.6 345.5,104.9 346.0,105.0 346.5,105.0 347.0,105.0 347.5,105.0 348.0,105.1 348.5,105.2 349.0,105.2 349.5,105.2 350.0,105.4 350.5,105.6 351.0,105.7 351.5,105.7 352.0,105.7 352.5,105.7 353.0,105.8 353.5,105.9 354.0,105.9 354.5,105.9 355.0,106.2 355.5,106.3 356.0,106.3 356.5,106.3 357.0,106.4 357.5,106.4 358.0,106.5 358.5,106.6 359.0,106.6 359.5,106.7 360.0,106.9 360.5,107.0 361.0,107.0 361.5,107.0 362.0,107.4 362.5,107.7 363.0,108.0 363.5,108.2 364.0,108.3 364.5,108.5 365.0,108.7 365.5,109.0 366.0,109.3 366.5,109.6 367.0,110.1 367.5,110.8 368.0,111.5 368.5,112.4 369.0,113.3 369.5,113.3 370.0,113.3 370.5,113.3 371.0,113.3 371.5,113.4 372.0,113.4 372.5,113.5 373.0,113.6 373.5,113.6 374.0,113.7 374.5,113.9 375.0,114.0 375.5,114.0 376.0,114.0 376.5,114.0 377.0,114.1 377.5,114.2 378.0,114.2 378.5,114.3 379.0,114.5 379.5,114.6 380.0,114.7 380.5,114.7 381.0,114.7 381.5,114.7 382.0,114.8 382.5,114.9 383.0,114.9 383.5,115.0 384.0,115.2 384.5,115.3 385.0,115.3 385.5,115.3 386.0,115.3 386.5,115.4 387.0,115.5 387.5,115.5 388.0,115.6 388.5,115.8 389.0,115.9 389.5,116.0 390.0,116.0 390.5,116.1 391.0,116.5 391.5,116.8 392.0,117.1 392.5,117.3 393.0,117.4 393.5,117.6 394.0,117.9 394.5,118.2 395.0,118.5 395.5,118.9 396.0,119.4 396.5,120.1 397.0,120.8 397.5,121.8 398.0,122.3 398.5,122.3 399.0,122.3 399.5,122.3 400.0,122.4 400.5,122.3 401.0,122.4 401.5,122.5 402.0,122.5 402.5,122.5 403.0,122.7 403.5,122.9 404.0,122.9 404.5,122.9 405.0,122.9 405.5,122.9 406.0,123.1 406.5,123.1 407.0,123.1 407.5,123.2 408.0,123.4 408.5,123.5 409.0,123.5 409.5,123.5 410.0,123.5 410.5,123.6 411.0,123.7 411.5,123.7 412.0,123.7 412.5,123.9 413.0,124.1 413.5,124.2 414.0,124.2 414.5,124.2 415.0,124.2 415.5,124.3 416.0,124.4 416.5,124.4 417.0,124.4 417.5,124.7 418.0,124.8 418.5,124.8 419.0,124.8 419.5,125.1 420.0,125.4 420.5,125.8 421.0,126.0 421.5,126.2 422.0,126.4 422.5,126.6 423.0,127.0 423.5,127.3 424.0,127.7 424.5,128.1 425.0,128.8 425.5,129.5 426.0,130.3 426.5,131.3 427.0,131.5 427.5,131.5 428.0,131.5 428.5,131.5 429.0,131.5 429.5,131.5 430.0,131.6 430.5,131.7 431.0,131.7 431.5,131.8 432.0,132.0 432.5,132.1 433.0,132.1 433.5,132.1 434.0,132.1 434.5,132.2 435.0,132.3 435.5,132.3 436.0,132.3 436.5,132.5 437.0,132.6 437.5,132.7 438.0,132.7 438.5,132.8 439.0,132.8 439.5,132.8 440.0,132.9 440.5,132.9 441.0,133.0 441.5,133.2 442.0,133.3 442.5,133.3 443.0,133.4 443.5,133.4 444.0,133.4 444.5,133.5 445.0,133.5 445.5,133.5 446.0,133.7 446.5,133.8 447.0,133.9 447.5,133.9 448.0,133.9 448.5,134.2 449.0,134.6 449.5,134.9 450.0,135.1 450.5,135.3 451.0,135.5 451.5,135.7 452.0,136.0 452.5,136.4 453.0,136.7 453.5,137.2 454.0,137.9 454.5,138.5 455.0,139.4 455.5,140.2 456.0,140.2 456.5,140.2 457.0,140.2 457.5,140.1 458.0,140.1 458.5,140.1 459.0,140.2 459.5,140.2 460.0,140.2 460.5,140.2 461.0,140.4 461.5,140.5 462.0,140.5 462.5,140.4 463.0,140.4 463.5,140.5 464.0,140.6 464.5,140.6 465.0,140.6 465.5,140.8 466.0,140.9 466.5,141.0 467.0,141.0 467.5,141.0 468.0,141.1 468.5,141.2 469.0,141.3 469.5,141.3 470.0,141.4 470.5,141.6 471.0,141.8 471.5,141.8 472.0,141.8 472.5,141.8 473.0,141.9 473.5,142.1 474.0,142.1 474.5,142.1 475.0,142.3 475.5,142.5 476.0,142.6 476.5,142.6 477.0,142.7 477.5,143.1 478.0,143.5 478.5,143.8 479.0,144.0 479.5,144.2 480.0,144.4 480.5,144.7 481.0,145.1 481.5,145.4 482.0,145.7 482.5,146.2 483.0,146.9 483.5,147.5 484.0,148.5 484.5,149.0 485.0,149.1 485.5,149.1 486.0,149.1 486.5,149.1 487.0,149.1 487.5,149.2 488.0,149.3 488.5,149.3 489.0,149.4 489.5,149.6 490.0,149.7 490.5,149.8 491.0,149.8 491.5,149.8 492.0,149.8 492.5,150.0 493.0,150.1 493.5,150.1 494.0,150.1 494.5,150.4 495.0,150.5 495.5,150.5 496.0,150.6 496.5,150.6 497.0,150.6 497.5,150.8 498.0,150.8 498.5,150.8 499.0,151.0 499.5,151.2 500.0,151.3 500.5,151.3 501.0,151.3 501.5,151.3 502.0,151.4 502.5,151.5 503.0,151.6 503.5,151.6 504.0,151.9 504.5,152.0 505.0,152.1 505.5,152.1 506.0,152.4 506.5,152.8 507.0,153.2 507.5,153.4 508.0,153.7 508.5,153.9 509.0,154.2 509.5,154.5 510.0,154.9 510.5,155.3 511.0,155.7 511.5,156.4 512.0,157.1 512.5,157.9 513.0,158.9 513.5,159.1 514.0,159.1 514.5,159.1 515.0,159.1 515.5,159.2 516.0,159.2 516.5,159.3 517.0,159.4 517.5,159.4 518.0,159.4 518.5,159.6 519.0,159.7 519.5,159.8 520.0,159.8 520.5,159.8 521.0,159.8 521.5,160.0 522.0,160.0 522.5,160.0 523.0,160.1 523.5,160.3 524.0,160.4 524.5,160.4 525.0,160.4 525.5,160.4 526.0,160.5 526.5,160.6 527.0,160.6 527.5,160.7 528.0,160.9 528.5,161.0 529.0,161.1 529.5,161.1 530.0,161.1 530.5,161.1 531.0,161.2 531.5,161.3 532.0,161.3 532.5,161.4 533.0,161.6 533.5,161.7 534.0,161.7 534.5,161.7 535.0,162.0 535.5,162.4 536.0,162.7 536.5,162.9 537.0,163.1 537.5,163.3 538.0,163.5 538.5,163.9 539.0,164.2 539.5,164.6 540.0,165.1 540.5,165.8 541.0,166.5 541.5,167.4 542.0,168.2 542.5,168.3 543.0,168.3 543.5,168.3 544.0,168.3 544.5,168.4 545.0,168.4 545.5,168.5 546.0,168.6 546.5,168.6 547.0,168.7 547.5,168.9 548.0,169.0 548.5,169.0 549.0,169.0 549.5,169.0 550.0,169.1 550.5,169.2 551.0,169.2 551.5,169.2 552.0,169.4 552.5,169.6 553.0,169.6 553.5,169.6 554.0,169.7 554.5,169.7 555.0,169.8 555.5,169.9 556.0,169.9 556.5,170.0 557.0,170.2 557.5,170.3 558.0,170.3 558.5,170.3 559.0,170.3 559.5,170.4 560.0,170.5 560.5,170.5 561.0,170.6 561.5,170.7 562.0,170.9 562.5,171.0 563.0,171.0 563.5,171.1 564.0,171.4 564.5,171.8 565.0,172.1 565.5,172.2 566.0,172.4 566.5,172.6 567.0,172.9 567.5,173.2 568.0,173.5 568.5,173.9 569.0,174.5 569.5,175.2 570.0,175.8 570.5,176.8 571.0,177.4 571.5,177.4 572.0,177.4 572.5,177.4 573.0,177.4 573.5,177.4 574.0,177.5 574.5,177.6 575.0,177.6 575.5,177.6 576.0,177.8 576.5,178.0 577.0,178.1 577.5,178.1 578.0,178.1 578.5,178.1 579.0,178.2 579.5,178.3 580.0,178.3 580.5,178.4 581.0,178.6 581.5,178.7 582.0,178.8 582.5,178.9 583.0,179.1 583.5,179.2 584.0,179.5 584.5,179.6 585.0,179.7 585.5,180.0 586.0,180.3 586.5,180.5 587.0,180.6 587.5,180.8 588.0,181.0 588.5,181.2 589.0,181.5 589.5,181.6 590.0,181.8 590.5,182.2 591.0,182.5 591.5,182.7 592.0,182.8 592.5,183.2 593.0,183.7 593.5,184.2 594.0,184.6 594.5,184.9 595.0,185.2 595.5,185.4 596.0,185.8 596.5,186.2 597.0,186.6 597.5,187.0 598.0,187.7 598.5,188.4 599.0,189.1 599.5,190.1 600.0,190.3 600.5,190.3 601.0,190.2 601.5,190.2 602.0,190.2 602.5,190.1 603.0,190.2 603.5,190.3 604.0,190.2 604.5,190.3 605.0,190.5 605.5,190.6 606.0,190.6 606.5,190.6 607.0,190.6 607.5,190.6 608.0,190.7 608.5,190.8 609.0,190.8 609.5,190.9 610.0,191.1 610.5,191.3 611.0,191.3 611.5,191.3 612.0,191.3 612.5,191.4 613.0,191.6 613.5,191.6 614.0,191.7 614.5,191.9 615.0,192.1 615.5,192.2 616.0,192.2 616.5,192.3 617.0,192.3 617.5,192.5 618.0,192.6 618.5,192.6 619.0,192.8 619.5,193.0 620.0,193.2 620.5,193.2 621.0,193.3 621.5,193.7 622.0,194.1 622.5,194.5 623.0,194.8 623.5,195.0 624.0,195.3 624.5,195.6 625.0,196.0 625.5,196.4 626.0,196.8 626.5,197.4 627.0,198.1 627.5,198.8 628.0,199.6 628.5,200.5 629.0,200.6 629.5,200.6 630.0,200.6 630.5,200.6 631.0,200.7 631.5,200.7 632.0,200.8 632.5,200.9 633.0,200.9 633.5,201.0 634.0,201.2 634.5,201.3 635.0,201.3 635.5,201.3 636.0,201.4 636.5,201.4 637.0,201.6 637.5,201.6 638.0,201.6 638.5,201.8 639.0,201.9 639.5,202.0 640.0,202.0 640.5,202.0 641.0,202.1 641.5,202.2 642.0,202.3 642.5,202.3 643.0,202.4 643.5,202.6 644.0,202.7 644.5,202.7 645.0,202.7 645.5,202.7 646.0,202.8 646.5,202.9 647.0,203.0 647.5,203.0 648.0,203.2 648.5,203.3 649.0,203.4 649.5,203.4 650.0,203.5 650.5,203.9 651.0,204.2 651.5,204.6 652.0,204.8 652.5,205.0 653.0,205.2 653.5,205.4 654.0,205.8 654.5,206.1 655.0,206.5 655.5,207.1 656.0,207.8 656.5,208.5 657.0,209.5 657.5,210.0 658.0,210.1 658.5,210.1 659.0,210.0 659.5,210.1 660.0,210.1 660.5,210.1 661.0,210.2 661.5,210.2 662.0,210.2 662.5,210.4 663.0,210.6 663.5,210.6 664.0,210.6 664.5,210.7 665.0,210.7 665.5,210.8 666.0,210.9 666.5,210.9 667.0,210.9 667.5,211.1 668.0,211.2 668.5,211.3 669.0,211.3 669.5,211.3 670.0,211.3 670.5,211.5 671.0,211.5 671.5,211.5 672.0,211.6 672.5,211.8 673.0,211.9 673.5,211.9 674.0,211.9 674.5,211.9 675.0,212.0 675.5,212.1 676.0,212.1 676.5,212.2 677.0,212.4 677.5,212.5 678.0,212.5 678.5,212.5 679.0,212.7 679.5,213.1 680.0,213.5 680.5,213.7 681.0,213.9 681.5,214.1 682.0,214.3 682.5,214.6 683.0,215.0 683.5,215.3 684.0,215.8 684.5,216.4 685.0,217.1 685.5,217.9 686.0,219.0 686.5,219.2 687.0,219.2 687.5,219.2 688.0,219.2 688.5,219.3 689.0,219.3 689.5,219.4 690.0,219.5 690.5,219.5 691.0,219.5 691.5,219.7 692.0,219.9 692.5,219.9 693.0,219.9 693.5,220.0 694.0,220.0 694.5,220.1 695.0,220.2 695.5,220.2 696.0,220.3 696.5,220.5 697.0,220.6 697.5,220.6 698.0,220.6 698.5,220.6 699.0,220.7 699.5,220.8 700.0,220.8 700.5,220.9 701.0,221.1 701.5,221.2 702.0,221.3 702.5,221.3 703.0,221.3 703.5,221.3 704.0,221.5 704.5,221.5 705.0,221.5 705.5,221.6 706.0,221.8 706.5,221.9 707.0,222.0 707.5,222.0 708.0,222.3 708.5,222.7 709.0,223.0 709.5,223.2 710.0,223.4 710.5,223.6 711.0,223.8 711.5,224.2 712.0,224.5 712.5,224.9 713.0,225.4 713.5,226.1 714.0,226.8 714.5,227.6 715.0,228.5 715.5,228.6 716.0,228.6 716.5,228.6 717.0,228.6 717.5,228.6 718.0,228.6 718.5,228.7 719.0,228.8 719.5,228.8 720.0,228.9 720.5,229.1 721.0,229.2 721.5,229.2 722.0,229.2 722.5,229.2 723.0,229.3 723.5,229.4 724.0,229.4 724.5,229.4 725.0,229.6 725.5,229.7 726.0,229.8 726.5,229.8 727.0,229.9 727.5,229.9 728.0,230.0 728.5,230.1 729.0,230.1 729.5,230.2 730.0,230.4 730.5,230.5 731.0,230.5 731.5,230.5 732.0,230.5 732.5,230.6 733.0,230.7 733.5,230.8 734.0,230.8 734.5,231.0 735.0,231.1 735.5,231.2 736.0,231.2 736.5,231.3 737.0,231.7 737.5,232.0 738.0,232.4 738.5,232.5 739.0,232.8 739.5,233.0 740.0,233.2 740.5,233.6 741.0,234.0 741.5,234.3 742.0,234.9 742.5,235.6 743.0,236.3 743.5,237.3 744.0,237.9 744.5,238.0 745.0,238.0 745.5,238.0 746.0,238.0 746.5,238.0 747.0,238.1 747.5,238.2 748.0,238.2 748.5,238.3 749.0,238.4 749.5,238.6 750.0,238.7 750.5,238.7 751.0,238.7 751.5,238.7 752.0,238.9 752.5,238.9 753.0,238.9 753.5,239.0 754.0,239.2 754.5,239.4 755.0,239.4 755.5,239.4 756.0,239.4 756.5,239.5 757.0,239.6 757.5,239.6 758.0,239.6 758.5,239.8 759.0,240.0 759.5,240.1 760.0,240.1 760.5,240.1 761.0,240.1 761.5,240.2 762.0,240.3 762.5,240.3 763.0,240.4 763.5,240.6 764.0,240.7 764.5,240.7 765.0,240.7 765.5,240.9 766.0,241.2 766.5,241.5 767.0,241.8 767.5,242.0 768.0,242.2 768.5,242.3 769.0,242.6 769.5,243.0 770.0,243.3 770.5,243.7 771.0,244.3 771.5,245.0 772.0,245.8 772.5,246.8 773.0,247.1 773.5,247.1 774.0,247.2 774.5,247.2 775.0,247.2 775.5,247.2 776.0,247.3 776.5,247.4 777.0,247.4 777.5,247.5 778.0,247.7 778.5,247.8 779.0,247.9 779.5,247.9 780.0,247.9 780.5,247.9 781.0,248.1 781.5,248.1 782.0,248.1 782.5,248.3 783.0,248.5 783.5,248.6 784.0,248.6 784.5,248.6 785.0,248.6 785.5,248.7 786.0,248.8 786.5,248.8 787.0,248.9 787.5,249.1 788.0,249.2 788.5,249.3 789.0,249.3 789.5,249.3 790.0,249.3 790.5,249.5 791.0,249.5 791.5,249.5 792.0,249.6 792.5,249.8 793.0,249.9 793.5,249.9 794.0,249.9 794.5,250.2 795.0,250.5 795.5,250.9 796.0,251.1 796.5,251.3 797.0,251.5 797.5,251.6 798.0,252.0 798.5,252.3 799.0,252.7 799.5,253.1 800.0,253.8 800.5,254.5 801.0,255.3 801.5,256.2 802.0,256.3 802.5,256.3 803.0,256.3 803.5,256.3 804.0,256.3 804.5,256.4 805.0,256.5 805.5,256.6 806.0,256.6 806.5,256.7 807.0,256.9 807.5,257.0 808.0,257.0 808.5,257.0 809.0,257.0 809.5,257.1 810.0,257.2 810.5,257.2 811.0,257.3 811.5,257.5 812.0,257.6 812.5,257.7 813.0,257.7 813.5,257.7 814.0,257.7 814.5,257.9 815.0,257.9 815.5,257.9 816.0,258.0 816.5,258.2 817.0,258.4 817.5,258.4 818.0,258.4 818.5,258.4 819.0,258.5 819.5,258.6 820.0,258.6 820.5,258.6 821.0,258.8 821.5,259.0 822.0,259.0 822.5,259.0 823.0,259.0 823.5,259.4 824.0,259.7 824.5,260.0 825.0,260.2 825.5,260.4 826.0,260.6 826.5,260.8 827.0,261.1 827.5,261.5 828.0,261.8 828.5,262.3 829.0,263.0 829.5,263.7 830.0,264.7 830.5,265.3 831.0,265.3 831.5,265.3 832.0,265.3 832.5,265.3 833.0,265.3 833.5,265.4 834.0,265.5 834.5,265.5 835.0,265.6 835.5,265.7 836.0,265.9 836.5,266.0 837.0,266.0 837.5,266.0 838.0,266.0 838.5,266.1 839.0,266.2 839.5,266.2 840.0,266.3 840.5,266.5 841.0,266.6 841.5,266.6 842.0,266.6 842.5,266.7 843.0,266.7 843.5,266.8 844.0,266.8 844.5,266.8 845.0,267.0 845.5,267.1 846.0,267.2 846.5,267.2 847.0,267.2 847.5,267.2 848.0,267.3 848.5,267.4 849.0,267.4 849.5,267.4 850.0,267.6 850.5,267.7 851.0,267.7 851.5,267.7 852.0,267.9 852.5,268.3 853.0,268.6 853.5,268.9 854.0,269.1 854.5,269.3 855.0,269.5 855.5,269.8 856.0,270.1 856.5,270.5 857.0,270.9 857.5,271.5 858.0,272.2 858.5,272.9 859.0,274.0 859.5,274.3 860.0,274.3 860.5,274.3 861.0,274.3 861.5,274.3 862.0,274.3 862.5,274.4 863.0,274.5 863.5,274.5 864.0,274.6 864.5,274.8 865.0,274.9 865.5,274.9 866.0,274.9 866.5,275.0 867.0,275.0 867.5,275.1 868.0,275.2 868.5,275.2 869.0,275.3 869.5,275.5 870.0,275.6 870.5,275.6 871.0,275.6 871.5,275.6 872.0,275.7 872.5,275.8 873.0,275.8 873.5,275.8 874.0,276.0 874.5,276.2 875.0,276.2 875.5,276.2 876.0,276.2 876.5,276.3 877.0,276.4 877.5,276.4 878.0,276.4 878.5,276.5 879.0,276.7 879.5,276.8 880.0,276.8 880.5,276.8 881.0,277.1 881.5,277.4 882.0,277.8 882.5,278.0 883.0,278.2 883.5,278.4 884.0,278.6 884.5,278.9 885.0,279.3 885.5,279.6 886.0,280.1 886.5,280.8 887.0,281.5 887.5,282.3 888.0,283.3 888.5,283.4 889.0,283.4 889.5,283.4 890.0,283.4 890.5,283.4 891.0,283.4 891.5,283.5 892.0,283.6 892.5,283.6 893.0,283.7 893.5,283.9 894.0,284.0 894.5,284.0 895.0,284.0 895.5,284.0 896.0,284.1 896.5,284.2 897.0,284.2 897.5,284.2 898.0,284.4 898.5,284.6 899.0,284.6 899.5,284.6 900.0,284.7 900.5,284.7 901.0,284.8 901.5,284.8 902.0,284.8 902.5,284.9 903.0,285.1 903.5,285.3 904.0,285.3 904.5,285.3 905.0,285.3 905.5,285.3 906.0,285.4 906.5,285.4 907.0,285.4 907.5,285.6 908.0,285.7 908.5,285.8 909.0,285.8 909.5,285.8 910.0,286.2 910.5,286.5 911.0,286.9 911.5,287.0 912.0,287.2 912.5,287.4 913.0,287.6 913.5,288.0 914.0,288.3 914.5,288.7 915.0,289.2 915.5,289.9 916.0,290.6 916.5,291.6 917.0,292.2 917.5,292.3 918.0,292.3 918.5,292.3 919.0,292.3 919.5,292.3 920.0,292.4 920.5,292.5 921.0,292.5 921.5,292.5 922.0,292.7 922.5,292.9 923.0,292.9 923.5,292.9 924.0,293.0 924.5,293.0 925.0,293.1 925.5,293.2 926.0,293.2 926.5,293.2 927.0,293.5 927.5,293.6 928.0,293.7 928.5,293.7 929.0,293.7 929.5,293.8 930.0,294.0 930.5,294.0 931.0,294.0 931.5,294.2 932.0,294.4 932.5,294.5 933.0,294.5 933.5,294.6 934.0,294.6 934.5,294.7 935.0,294.9 935.5,294.9 936.0,294.9 936.5,295.2 937.0,295.3 937.5,295.4 938.0,295.4 938.5,295.6 939.0,296.0 939.5,296.4 940.0,296.7 940.5,296.9 941.0,297.2 941.5,297.4 942.0,297.8 942.5,298.2 943.0,298.5 943.5,299.0 944.0,299.7 944.5,300.4 945.0,301.2 945.5,302.3 946.0,302.6 946.5,302.7 947.0,302.7 947.5,302.7 948.0,302.8 948.5,302.8 949.0,303.0 949.5,303.1 950.0,303.1 950.5,303.2 951.0,303.4 951.5,303.6 952.0,303.7 952.5,303.7 953.0,303.8 953.5,303.8 954.0,304.0 954.5,304.0 955.0,304.1 955.5,304.2 956.0,304.5 956.5,304.6 957.0,304.6 957.5,304.7 958.0,304.7 958.5,304.8 959.0,305.0 959.5,305.0 960.0,305.1 960.5,305.3 961.0,305.5 961.5,305.6 962.0,305.6 962.5,305.7 963.0,305.8 963.5,306.0 964.0,306.1 964.5,306.2 965.0,306.4 965.5,306.6 966.0,306.8 966.5,306.9 967.0,307.0 967.5,307.5 968.0,308.1 968.5,308.7 969.0,309.2 969.5,309.6 970.0,310.1 970.5,310.5 971.0,311.1 971.5,311.5 972.0,311.9 972.5,312.4 973.0,313.1 973.5,313.8 974.0,314.7 974.5,315.7 975.0,315.8 975.5,315.8 976.0,315.8 976.5,315.8 977.0,315.8 977.5,315.8 978.0,315.9 978.5,316.0 979.0,316.0 979.5,316.0 980.0,316.3 980.5,316.4 981.0,316.4 981.5,316.4 982.0,316.4 982.5,316.4 983.0,316.5 983.5,316.6 984.0,316.6 984.5,316.7 985.0,316.9 985.5,316.9 986.0,316.9 986.5,317.0 987.0,317.0 987.5,317.1 988.0,317.1 988.5,317.1 989.0,317.2 989.5,317.4 990.0,317.5 990.5,317.5 991.0,317.5 991.5,317.5 992.0,317.6 992.5,317.7 993.0,317.7 993.5,317.7 994.0,317.9 994.5,318.0 995.0,318.1 995.5,318.1 996.0,318.2 996.5,318.5 997.0,318.9 997.5,319.2 998.0,319.4 998.5,319.6 999.0,319.8 999.5,320.0 1000.0,320.4 1000.5,320.7 1001.0,321.1 1001.5,321.6 1002.0,322.3 1002.5,323.0 1003.0,324.0 1003.5,324.6 1004.0,324.6 1004.5,324.6 1005.0,324.6 1005.5,324.6 1006.0,324.6 1006.5,324.6 1007.0,324.7 1007.5,324.7 1008.0,324.7 1008.5,324.8 1009.0,325.0 1009.5,325.0 1010.0,325.0 1010.5,325.0 1011.0,325.0 1011.5,325.1 1012.0,325.2 1012.5,325.1 1013.0,325.2 1013.5,325.4 1014.0,325.5 1014.5,325.5 1015.0,325.5 1015.5,325.5 1016.0,325.5 1016.5,325.6 1017.0,325.6 1017.5,325.6 1018.0,325.7 1018.5,325.9 1019.0,326.0 1019.5,326.0 1020.0,326.0 1020.5,326.0 1021.0,326.1 1021.5,326.2 1022.0,326.2 1022.5,326.2 1023.0,326.4 1023.5,326.5 1024.0,326.6 1024.5,326.5 1025.0,326.7 1025.5,327.1 1026.0,327.4 1026.5,327.7 1027.0,327.9 1027.5,328.1 1028.0,328.3 1028.5,328.6 1029.0,328.9 1029.5,329.3 1030.0,329.7 1030.5,330.3 1031.0,331.0 1031.5,331.7 1032.0,332.8 1032.5,333.1 1033.0,333.1 1033.5,333.1 1034.0,333.1 1034.5,333.1 1035.0,333.1 1035.5,333.2 1036.0,333.3 1036.5,333.3 1037.0,333.3 1037.5,333.5 1038.0,333.6 1038.5,333.7 1039.0,333.7 1039.5,333.7 1040.0,333.7 1040.5,333.8 1041.0,333.9 1041.5,333.9 1042.0,334.0 1042.5,334.2 1043.0,334.2 1043.5,334.2 1044.0,334.3 1044.5,334.3 1045.0,334.3 1045.5,334.4 1046.0,334.4 1046.5,334.5 1047.0,334.6 1047.5,334.8 1048.0,334.8 1048.5,334.8 1049.0,334.9 1049.5,334.9 1050.0,335.0 1050.5,335.1 1051.0,335.1 1051.5,335.2 1052.0,335.4 1052.5,335.5 1053.0,335.5 1053.5,335.5 1054.0,335.8 1054.5,336.2 1055.0,336.6 1055.5,336.8 1056.0,337.0 1056.5,337.2 1057.0,337.4 1057.5,337.8 1058.0,338.1 1058.5,338.5 1059.0,339.0 1059.5,339.6 1060.0,340.3 1060.5,341.2 1061.0,342.1 1061.5,342.2 1062.0,342.2 1062.5,342.2 1063.0,342.2 1063.5,342.3 1064.0,342.3 1064.5,342.4 1065.0,342.4 1065.5,342.4 1066.0,342.5 1066.5,342.7 1067.0,342.8 1067.5,342.8 1068.0,342.8 1068.5,342.8 1069.0,342.9 1069.5,343.0 1070.0,343.0 1070.5,343.0 1071.0,343.2 1071.5,343.4 1072.0,343.5 1072.5,343.5 1073.0,343.5 1073.5,343.5 1074.0,343.6 1074.5,343.7 1075.0,343.7 1075.5,343.8 1076.0,344.0 1076.5,344.1 1077.0,344.2 1077.5,344.2 1078.0,344.2 1078.5,344.3 1079.0,344.4 1079.5,344.5 1080.0,344.5 1080.5,344.7 1081.0,344.9 1081.5,345.0 1082.0,345.0 1082.5,345.1 1083.0,345.5 1083.5,345.8 1084.0,346.2 1084.5,346.4 1085.0,346.6 1085.5,346.8 1086.0,347.1 1086.5,347.5 1087.0,347.8 1087.5,348.1 1088.0,348.7 1088.5,349.4 1089.0,350.0 1089.5,351.0 1090.0,351.6 1090.5,351.7 1091.0,351.6 1091.5,351.6 1092.0,351.6 1092.5,351.6 1093.0,351.6 1093.5,351.7 1094.0,351.7 1094.5,351.7 1095.0,351.8 1095.5,351.9 1096.0,352.0 1096.5,352.0 1097.0,352.0 1097.5,351.9 1098.0,352.0 1098.5,352.1 1099.0,352.0 1099.5,352.0 1100.0,352.2 1100.5,352.3 1101.0,352.4 1101.5,352.4 1102.0,352.4 1102.5,352.5 1103.0,352.6 1103.5,352.6 1104.0,352.7 1104.5,352.8 1105.0,353.0 1105.5,353.1 1106.0,353.1 1106.5,353.2 1107.0,353.2 1107.5,353.3 1108.0,353.4 1108.5,353.4 1109.0,353.5 1109.5,353.7 1110.0,353.8 1110.5,353.9 1111.0,353.9 1111.5,354.1 1112.0,354.5 1112.5,354.8 1113.0,355.1 1113.5,355.3 1114.0,355.4 1114.5,355.6 1115.0,355.9 1115.5,356.2 1116.0,356.5 1116.5,356.8 1117.0,357.4 1117.5,358.1 1118.0,358.8 1118.5,359.8 1119.0,360.1 1119.5,360.1 1120.0,360.0 1120.5,360.0 1121.0,360.0 1121.5,359.9 1122.0,360.0 1122.5,360.0 1123.0,360.0 1123.5,360.0 1124.0,360.1 1124.5,360.2 1125.0,360.2 1125.5,360.2 1126.0,360.2 1126.5,360.2 1127.0,360.3 1127.5,360.3 1128.0,360.3 1128.5,360.4 1129.0,360.6 1129.5,360.7 1130.0,360.7 1130.5,360.7 1131.0,360.7 1131.5,360.7 1132.0,360.8 1132.5,360.8 1133.0,360.8 1133.5,361.0 1134.0,361.1 1134.5,361.2 1135.0,361.2 1135.5,361.2 1136.0,361.2 1136.5,361.4 1137.0,361.4 1137.5,361.4 1138.0,361.5 1138.5,361.7 1139.0,361.9 1139.5,361.9 1140.0,361.9 1140.5,362.2 1141.0,362.5 1141.5,362.9 1142.0,363.1 1142.5,363.3 1143.0,363.6 1143.5,363.8 1144.0,364.1 1144.5,364.5 1145.0,364.8 1145.5,365.3 1146.0,365.9 1146.5,366.6 1147.0,367.4 1147.5,368.4 1148.0,368.5 1148.5,368.5 1149.0,368.5 1149.5,368.5 1150.0,368.5 1150.5,368.5 1151.0,368.6 1151.5,368.6 1152.0,368.6 1152.5,368.7 1153.0,368.9 1153.5,369.0 1154.0,369.0 1154.5,369.0 1155.0,369.0 1155.5,369.0 1156.0,369.1 1156.5,369.1 1157.0,369.1 1157.5,369.3 1158.0,369.4 1158.5,369.5 1159.0,369.5 1159.5,369.5 1160.0,369.5 1160.5,369.7 1161.0,369.7 1161.5,369.7 1162.0,369.8 1162.5,370.0 1163.0,370.1 1163.5,370.1 1164.0,370.1 1164.5,370.2 1165.0,370.2 1165.5,370.3 1166.0,370.3 1166.5,370.3 1167.0,370.5 1167.5,370.7 1168.0,370.7 1168.5,370.7 1169.0,370.8 1169.5,371.2 1170.0,371.5 1170.5,371.9 1171.0,372.0 1171.5,372.2 1172.0,372.4 1172.5,372.6 1173.0,373.0 1173.5,373.4 1174.0,373.7 1174.5,374.3 1175.0,375.0 1175.5,375.7 1176.0,376.6 1176.5,377.3 1177.0,377.4 1177.5,377.4 1178.0,377.3 1178.5,377.4 1179.0,377.4 1179.5,377.4 1180.0,377.5 1180.5,377.6 1181.0,377.6 1181.5,377.7 1182.0,377.9 1182.5,378.0 1183.0,378.0 1183.5,378.0 1184.0,378.0 1184.5,378.1 1185.0,378.2 1185.5,378.2 1186.0,378.3 1186.5,378.5 1187.0,378.6 1187.5,378.7 1188.0,378.7 1188.5,378.7 1189.0,378.8 1189.5,378.9 1190.0,378.9 1190.5,378.9 1191.0,379.1 1191.5,379.3 1192.0,379.4 1192.5,379.4 1193.0,379.4 1193.5,379.4 1194.0,379.5 1194.5,379.6 1195.0,379.6 1195.5,379.7 1196.0,379.9 1196.5,380.0 1197.0,380.1 1197.5,380.1 1198.0,380.2 1198.5,380.6 1199.0,381.0 1199.5,381.3 1200.0,381.5 1200.5,381.7 1201.0,381.9 1201.5,382.2 1202.0,382.6 1202.5,383.0 1203.0,383.4 1203.5,384.0 1204.0,384.8 1204.5,385.5 1205.0,386.6 1205.5,387.0 1206.0,387.0 1206.5,387.0 1207.0,387.2 1207.5,387.5 1208.0,387.7 1208.5,388.0 1209.0,388.3 1209.5,388.5 1210.0,388.8 1210.5,389.6 1211.0,390.2 1211.5,390.4 1212.0,390.5 1212.5,390.6 1213.0,390.7 1213.5,390.9 1214.0,391.1 1214.5,391.2 1215.0,391.4 1215.5,391.7 1216.0,391.9 1216.5,391.9 1217.0,392.1 1217.5,392.2 1218.0,392.3 1218.5,392.5 1219.0,392.6 1219.5,392.7 1220.0,393.0 1220.5,393.2 1221.0,393.3 1221.5,393.4 1222.0,393.5 1222.5,393.6 1223.0,393.8 1223.5,393.9 1224.0,394.0 1224.5,394.1 1225.0,394.4 1225.5,394.6 1226.0,394.6 1226.5,394.6 1227.0,395.0 1227.5,395.4 1228.0,395.8 1228.5,396.0 1229.0,396.1 1229.5,396.3 1230.0,396.4 1230.5,396.7 1231.0,397.0 1231.5,397.3 1232.0,397.7 1232.5,398.4 1233.0,399.0 1233.5,399.8 1234.0,400.8 1234.5,400.9 1235.0,400.9 1235.5,400.9 1236.0,401.0 1236.5,401.1 1237.0,401.2 1237.5,401.4 1238.0,401.6 1238.5,401.7 1239.0,401.8 1239.5,402.2 1240.0,402.5 1240.5,402.8 1241.0,403.1 1241.5,403.3 1242.0,403.6 1242.5,403.9 1243.0,404.2 1243.5,404.4 1244.0,404.7 1244.5,405.0 1245.0,405.3 1245.5,405.5 1246.0,405.8 1246.5,406.1 1247.0,406.4 1247.5,406.6 1248.0,406.9 1248.5,407.2 1249.0,407.5 1249.5,407.7 1250.0,408.0 1250.5,408.2 1251.0,408.5 1251.5,408.7 1252.0,409.0 1252.5,409.2 1253.0,409.4 1253.5,409.7 1254.0,409.9 1254.5,410.2 1255.0,410.4 1255.5,410.6 1256.0,410.9 1256.5,411.1 1257.0,411.3 1257.5,411.6 1258.0,411.8 1258.5,412.1 1259.0,412.3 1259.5,412.5 1260.0,412.8 1260.5,413.0 1261.0,413.3 1261.5,413.5 1262.0,413.7 1262.5,414.0 1263.0,414.2 1263.6,414.5" fill="none" stroke="#FF0000" stroke-width="12" stroke-linejoin="round" stroke-linecap="round"/>
<clipPath id="cb"><rect x="150" y="540" width="1300" height="423.6"/></clipPath>
<path d="M198,574 L198,975 L198.5,600 L199,623 L200,657 L201.5,665 L203,683 L204.5,690 L206.0,694.0 210.0,700.0 216.0,709.0 217.5,720.0 217.5,742.0 215.5,764.5 221.0,762.0 227.5,752.7 234.0,736.6 243.2,714.6 250.0,710.5 256.0,708.5 265.0,707.5 275.0,705.0 280.0,701.5 286.0,701.0 307.0,698.6 320.0,696.0 333.5,695.0 339.7,689.0 362.5,687.5 366.7,682.0 391.6,680.5 396.8,675.5 411.0,672.0 426.7,670.8 445.4,666.9 453.2,662.8 462.5,652.7 467.2,651.1 476.6,654.6 481.0,655.5 484.0,650.5 492.0,651.3 503.0,653.2 510.8,658.9 528.0,657.0 540.4,654.4 563.8,653.0 571.6,648.2 581.7,648.0 587.0,665.0 594.1,694.8 598.0,699.0 603.0,692.0 607.6,688.5 613.0,690.0 618.7,694.8 626.5,705.0 638.9,704.1 653.0,703.5 662.3,699.7 682.5,694.6 709.0,692.0 724.6,686.8 744.8,685.4 763.5,685.4 771.3,680.3 791.6,681.8 802.5,675.6 821.2,676.0 830.5,668.9 842.5,668.0 858.0,662.0 876.7,659.7 886.0,656.0 904.8,653.5 917.2,647.3 926.6,647.3 939.0,654.3 948.4,662.8 954.6,667.8 962.4,674.5 967.0,684.0 969.4,700.0 971.0,710.0 975.0,713.4 979.5,712.0 1001.3,706.7 1016.9,697.0 1032.5,692.4 1048.0,688.5 1059.0,689.3 1069.8,687.1 1075.6,687.3 1086.5,691.6 1092.0,688.0 1100.5,680.0 1113.0,683.9 1125.4,668.3 1134.8,663.6 1144.1,664.7 1156.6,659.3 1181.5,655.7 1200.2,658.2 1206.4,661.0 1209.8,680.0 1211.0,697.9 1214.0,705.9 1219.1,718.9 1224.0,729.0 1228.0,734.0 1233.0,727.0 1235.7,726.6 1239.0,735.0 1240.9,744.8 1244.8,764.2 1250.0,783.7 1252.6,796.6 1256.0,803.0 1260.3,805.7 1263.6,807.0" fill="none" stroke="#77AC30" stroke-width="12.5" stroke-linejoin="round" stroke-linecap="round" clip-path="url(#cb)"/>
<circle cx="198" cy="574" r="6.25" fill="#77AC30"/>
<polygon points="204,683 210.4,684 210.4,691 213.8,703.8 213.8,710 216,712 221.4,714.7 223,716 223.5,744 224.5,745 228,752 221.4,766 215.7,770.8 210,764 205.2,761.3 204,760" fill="#77AC30"/>
<line x1="196.8" y1="697.4" x2="1263.6" y2="697.4" stroke="#262626" stroke-width="12.6" stroke-dasharray="45.7 10.6 23.5 10.3"/>
<text x="197.6" y="511.0" text-anchor="middle" font-family="Liberation Serif, serif" font-weight="bold" font-size="61" fill="#262626">0</text>
<text x="197.6" y="1037.0" text-anchor="middle" font-family="Liberation Serif, serif" font-weight="bold" font-size="61" fill="#262626">0</text>
<text x="442.0" y="511.0" text-anchor="middle" font-family="Liberation Serif, serif" font-weight="bold" font-size="61" fill="#262626">1</text>
<text x="442.0" y="1037.0" text-anchor="middle" font-family="Liberation Serif, serif" font-weight="bold" font-size="61" fill="#262626">1</text>
<text x="686.4" y="511.0" text-anchor="middle" font-family="Liberation Serif, serif" font-weight="bold" font-size="61" fill="#262626">2</text>
<text x="686.4" y="1037.0" text-anchor="middle" font-family="Liberation Serif, serif" font-weight="bold" font-size="61" fill="#262626">2</text>
<text x="930.7" y="511.0" text-anchor="middle" font-family="Liberation Serif, serif" font-weight="bold" font-size="61" fill="#262626">3</text>
<text x="930.7" y="1037.0" text-anchor="middle" font-family="Liberation Serif, serif" font-weight="bold" font-size="61" fill="#262626">3</text>
<text x="1175.1" y="511.0" text-anchor="middle" font-family="Liberation Serif, serif" font-weight="bold" font-size="61" fill="#262626">4</text>
<text x="1175.1" y="1037.0" text-anchor="middle" font-family="Liberation Serif, serif" font-weight="bold" font-size="61" fill="#262626">4</text>
<text x="1419.5" y="511.0" text-anchor="middle" font-family="Liberation Serif, serif" font-weight="bold" font-size="61" fill="#262626">5</text>
<text x="1419.5" y="1037.0" text-anchor="middle" font-family="Liberation Serif, serif" font-weight="bold" font-size="61" fill="#262626">5</text>
<text x="178.5" y="71.0" text-anchor="end" font-family="Liberation Serif, serif" font-weight="bold" font-size="61" fill="#262626">100</text>
<text x="178.5" y="261.0" text-anchor="end" font-family="Liberation Serif, serif" font-weight="bold" font-size="61" fill="#262626">50</text>
<text x="178.5" y="451.0" text-anchor="end" font-family="Liberation Serif, serif" font-weight="bold" font-size="61" fill="#262626">0</text>
<text x="178.5" y="604.0" text-anchor="end" font-family="Liberation Serif, serif" font-weight="bold" font-size="61" fill="#262626">2</text>
<text x="178.5" y="711.0" text-anchor="end" font-family="Liberation Serif, serif" font-weight="bold" font-size="61" fill="#262626">0</text>
<text x="178.5" y="817.0" text-anchor="end" font-family="Liberation Serif, serif" font-weight="bold" font-size="61" fill="#262626">-2</text>
<text x="178.5" y="923.0" text-anchor="end" font-family="Liberation Serif, serif" font-weight="bold" font-size="61" fill="#262626">-4</text>
<text transform="translate(83,240) rotate(-90)" text-anchor="middle" font-family="Liberation Serif, serif" font-weight="bold" font-size="71" textLength="224" lengthAdjust="spacingAndGlyphs" fill="#262626">SOC/%</text>
<text transform="translate(82,749.8) rotate(-90)" text-anchor="middle" font-family="Liberation Serif, serif" font-weight="bold" font-size="71" textLength="387" lengthAdjust="spacingAndGlyphs" fill="#262626">SOC error/%</text>
<text x="652" y="1118.8" font-family="Liberation Serif, serif" font-weight="bold" font-size="69" textLength="242" lengthAdjust="spacingAndGlyphs" fill="#262626">Time/10</text>
<text x="896" y="1086.7" font-family="Liberation Serif, serif" font-weight="bold" font-size="53" fill="#262626">4</text>
<text x="925" y="1118.8" font-family="Liberation Serif, serif" font-weight="bold" font-size="69" fill="#262626">s</text>
<text x="1444.8" y="138" font-family="Liberation Serif, serif" font-weight="bold" font-size="58" fill="#000"><tspan dy="-5">(</tspan><tspan dy="5">a</tspan><tspan dy="-5">)</tspan></text>
<text x="1444.8" y="639" font-family="Liberation Serif, serif" font-weight="bold" font-size="58" fill="#000"><tspan dy="-5">(</tspan><tspan dy="5">b</tspan><tspan dy="-5" dx="2.5">)</tspan></text>
<rect x="227.4" y="300.5" width="430.1" height="114.0" fill="#fff" stroke="#262626" stroke-width="2.4"/>
<line x1="238" y1="330.9" x2="352" y2="330.9" stroke="#0000FF" stroke-width="11.8" stroke-dasharray="47 10 23 11"/>
<line x1="238" y1="383.5" x2="352" y2="383.5" stroke="#FF0000" stroke-width="12.6"/>
<text x="360" y="347" font-family="Liberation Serif, serif" font-size="47" textLength="181" lengthAdjust="spacingAndGlyphs" fill="#000">Reference</text>
<text x="360" y="400" font-family="Liberation Serif, serif" font-size="47" textLength="282.7" lengthAdjust="spacingAndGlyphs" fill="#000">EKF estimation</text>
<rect x="235.4" y="807.5" width="495.1" height="113.8" fill="#fff" stroke="#262626" stroke-width="2.4"/>
<line x1="246" y1="838" x2="359" y2="838" stroke="#77AC30" stroke-width="11.8"/>
<line x1="246" y1="891" x2="359" y2="891" stroke="#262626" stroke-width="11.6" stroke-dasharray="46 10 24 10"/>
<text x="367" y="854.4" font-family="Liberation Serif, serif" font-size="47" textLength="94.3" lengthAdjust="spacingAndGlyphs" fill="#000">Error</text>
<text x="367" y="906.8" font-family="Liberation Serif, serif" font-size="47" textLength="353" lengthAdjust="spacingAndGlyphs" fill="#000">Error reference line</text>
</svg></body></html>
